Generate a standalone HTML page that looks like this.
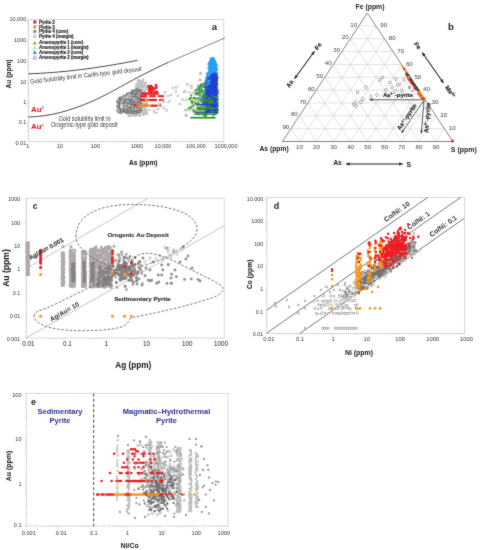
<!DOCTYPE html>
<html><head><meta charset="utf-8"><style>
html,body{margin:0;padding:0;background:#fff;width:480px;height:550px;overflow:hidden}
svg{display:block;will-change:transform}
text{font-family:"Liberation Sans",sans-serif}
</style></head><body>
<svg width="480" height="550" viewBox="0 0 480 550" font-family="Liberation Sans, sans-serif">
<defs><filter id="soft" x="0" y="0" width="480" height="550" filterUnits="userSpaceOnUse" color-interpolation-filters="sRGB"><feConvolveMatrix order="3" kernelMatrix="1 2 1 2 24 2 1 2 1" divisor="36" edgeMode="duplicate"/></filter></defs>
<g filter="url(#soft)"><rect width="480" height="550" fill="#fff"/>
<rect x="28.4" y="19.5" width="195.4" height="122" fill="none" stroke="#cfcfcf" stroke-width="0.8"/>
<path d="M28.4 141.5v1.3M38.2 141.5v1.3M43.9 141.5v1.3M48 141.5v1.3M51.2 141.5v1.3M53.7 141.5v1.3M55.9 141.5v1.3M57.8 141.5v1.3M59.5 141.5v1.3M61 141.5v1.3M70.8 141.5v1.3M76.5 141.5v1.3M80.6 141.5v1.3M83.7 141.5v1.3M86.3 141.5v1.3M88.5 141.5v1.3M90.4 141.5v1.3M92 141.5v1.3M93.5 141.5v1.3M103.3 141.5v1.3M109.1 141.5v1.3M113.1 141.5v1.3M116.3 141.5v1.3M118.9 141.5v1.3M121.1 141.5v1.3M122.9 141.5v1.3M124.6 141.5v1.3M126.1 141.5v1.3M135.9 141.5v1.3M141.6 141.5v1.3M145.7 141.5v1.3M148.9 141.5v1.3M151.4 141.5v1.3M153.6 141.5v1.3M155.5 141.5v1.3M157.2 141.5v1.3M158.7 141.5v1.3M168.5 141.5v1.3M174.2 141.5v1.3M178.3 141.5v1.3M181.4 141.5v1.3M184 141.5v1.3M186.2 141.5v1.3M188.1 141.5v1.3M189.7 141.5v1.3M191.2 141.5v1.3M201 141.5v1.3M206.8 141.5v1.3M210.8 141.5v1.3M214 141.5v1.3M216.6 141.5v1.3M218.8 141.5v1.3M220.6 141.5v1.3M222.3 141.5v1.3M223.8 141.5v1.3" stroke="#c8c8c8" stroke-width="0.5"/>
<path d="M28.4 141.5h-1.3M28.4 135.4h-1.3M28.4 131.8h-1.3M28.4 129.3h-1.3M28.4 127.3h-1.3M28.4 125.7h-1.3M28.4 124.3h-1.3M28.4 123.1h-1.3M28.4 122.1h-1.3M28.4 121.2h-1.3M28.4 115h-1.3M28.4 111.5h-1.3M28.4 108.9h-1.3M28.4 107h-1.3M28.4 105.3h-1.3M28.4 104h-1.3M28.4 102.8h-1.3M28.4 101.8h-1.3M28.4 100.8h-1.3M28.4 94.7h-1.3M28.4 91.1h-1.3M28.4 88.6h-1.3M28.4 86.6h-1.3M28.4 85h-1.3M28.4 83.6h-1.3M28.4 82.5h-1.3M28.4 81.4h-1.3M28.4 80.5h-1.3M28.4 74.4h-1.3M28.4 70.8h-1.3M28.4 68.3h-1.3M28.4 66.3h-1.3M28.4 64.7h-1.3M28.4 63.3h-1.3M28.4 62.1h-1.3M28.4 61.1h-1.3M28.4 60.2h-1.3M28.4 54h-1.3M28.4 50.5h-1.3M28.4 47.9h-1.3M28.4 46h-1.3M28.4 44.3h-1.3M28.4 43h-1.3M28.4 41.8h-1.3M28.4 40.8h-1.3M28.4 39.8h-1.3M28.4 33.7h-1.3M28.4 30.1h-1.3M28.4 27.6h-1.3M28.4 25.6h-1.3M28.4 24h-1.3M28.4 22.6h-1.3M28.4 21.5h-1.3M28.4 20.4h-1.3M28.4 19.5h-1.3" stroke="#c8c8c8" stroke-width="0.5"/>
<text x="26.3" y="21.4" font-size="5.5" text-anchor="end" fill="#333">10,000</text>
<text x="26.3" y="41.9" font-size="5.5" text-anchor="end" fill="#333">1000</text>
<text x="26.3" y="62.9" font-size="5.5" text-anchor="end" fill="#333">100</text>
<text x="26.3" y="83.5" font-size="5.5" text-anchor="end" fill="#333">10</text>
<text x="26.3" y="103.9" font-size="5.5" text-anchor="end" fill="#333">1</text>
<text x="26.3" y="124.4" font-size="5.5" text-anchor="end" fill="#333">0.1</text>
<text x="26.3" y="144.9" font-size="5.5" text-anchor="end" fill="#333">0.01</text>
<text x="27.8" y="148" font-size="5.5" text-anchor="middle" fill="#333">1</text>
<text x="59.7" y="148" font-size="5.5" text-anchor="middle" fill="#333">10</text>
<text x="95.4" y="148" font-size="5.5" text-anchor="middle" fill="#333">100</text>
<text x="137" y="148" font-size="5.5" text-anchor="middle" fill="#333">1000</text>
<text x="163" y="148" font-size="5.5" text-anchor="middle" fill="#333">10,000</text>
<text x="196" y="148" font-size="5.5" text-anchor="middle" fill="#333">100,000</text>
<text x="226" y="148" font-size="5.5" text-anchor="middle" fill="#333">1000,000</text>
<text x="143.2" y="164.8" font-size="6.6" font-weight="bold" text-anchor="middle" fill="#111">As (ppm)</text>
<text x="11.3" y="74" font-size="6.6" font-weight="bold" text-anchor="middle" fill="#111" transform="rotate(-90 11.3 74)">Au (ppm)</text>
<text x="214.5" y="30.2" font-size="9.5" font-weight="bold" text-anchor="middle" fill="#222">a</text>
<path d="M28.5 73.8 C60 73 100 68 137.5 60.3" stroke="#333" stroke-width="0.9" fill="none"/>
<path d="M28.4 117 C50 116.5 70 111 93.3 100.8 C115 91 130 80 168 62.5" stroke="#333" stroke-width="0.9" fill="none"/>
<path d="M167.5 62.7 L225 37.8" stroke="#444" stroke-width="0.65" fill="none"/>
<text x="30.5" y="83.8" font-size="6.4" fill="#333" transform="rotate(-6.6 30.5 83.8)" textLength="112" lengthAdjust="spacingAndGlyphs">Gold Solubility limit in Carlin-type gold deposit</text>
<text x="84.5" y="120.6" font-size="6.3" text-anchor="middle" fill="#3a3a3a" textLength="52" lengthAdjust="spacingAndGlyphs">Gold solubility limit in</text>
<text x="84.3" y="127.3" font-size="6.3" text-anchor="middle" fill="#3a3a3a" textLength="66.7" lengthAdjust="spacingAndGlyphs">Orogenic-type gold deposit</text>
<text x="31" y="112" font-size="7.8" font-weight="bold" fill="#e81020">Au<tspan dy="-3.3" font-size="3.8">0</tspan></text>
<text x="31" y="129.4" font-size="7.8" font-weight="bold" fill="#e81020">Au<tspan dy="-3.3" font-size="4.2">+</tspan></text>
<circle cx="34.8" cy="22.1" r="1.75" fill="#ee1d23"/>
<circle cx="34.8" cy="26.9" r="1.75" fill="#f7941d"/>
<circle cx="34.8" cy="31.6" r="1.75" fill="#8a8a8a"/>
<circle cx="34.8" cy="36.5" r="1.45" fill="#fff" stroke="#777" stroke-width="0.6"/>
<path d="M34.8 40.8l2.1 3.6h-4.2z" fill="#7ac143"/>
<path d="M34.8 45.8l1.9 3.3h-3.8z" fill="#fff" stroke="#7fbf9f" stroke-width="0.6"/>
<path d="M34.8 50.3l2.1 3.6h-4.2z" fill="#1e9be8"/>
<path d="M34.8 55.6l1.9 3.3h-3.8z" fill="#fff" stroke="#5b5bd6" stroke-width="0.6"/>
<text x="39" y="23.8" font-size="4.6" font-weight="bold" stroke="#222" stroke-width="0.13" fill="#222" letter-spacing="-0.1">Pyrite 2</text>
<text x="39" y="28.5" font-size="4.6" font-weight="bold" stroke="#222" stroke-width="0.13" fill="#222" letter-spacing="-0.1">Pyrite 3</text>
<text x="39" y="33.2" font-size="4.6" font-weight="bold" stroke="#222" stroke-width="0.13" fill="#222" letter-spacing="-0.1">Pyrite 4 (core)</text>
<text x="39" y="38.1" font-size="4.6" font-weight="bold" stroke="#222" stroke-width="0.13" fill="#222" letter-spacing="-0.1">Pyrite 4 (margin)</text>
<text x="39" y="44.4" font-size="4.6" font-weight="bold" stroke="#222" stroke-width="0.13" fill="#222" letter-spacing="-0.1">Arsenopyrite 1 (core)</text>
<text x="39" y="49.1" font-size="4.6" font-weight="bold" stroke="#222" stroke-width="0.13" fill="#222" letter-spacing="-0.1">Arsenopyrite 1 (margin)</text>
<text x="39" y="53.9" font-size="4.6" font-weight="bold" stroke="#222" stroke-width="0.13" fill="#222" letter-spacing="-0.1">Arsenopyrite 2 (core)</text>
<text x="39" y="58.9" font-size="4.6" font-weight="bold" stroke="#222" stroke-width="0.13" fill="#222" letter-spacing="-0.1">Arsenopyrite 2 (margin)</text>
<path d="M140.2 112.6h.01M143.1 87.4h.01M133.9 111.8h.01M128.1 109.8h.01M143.5 96.5h.01M137.8 99.8h.01M140.1 116.1h.01M139.9 80.6h.01M137.1 113.4h.01M140.3 98.3h.01M137.7 88.3h.01M141.5 86.5h.01M144.2 84.8h.01M133.2 112h.01M137.9 110.8h.01M140.5 106.8h.01M137.9 111.7h.01M143.9 93.2h.01M147.1 101.1h.01M139.8 102.9h.01M141.2 84.7h.01M136.6 88h.01M146.9 87.1h.01M141.1 90.3h.01M145 103.8h.01M130.6 110.7h.01M146.4 112.9h.01M139.1 84.5h.01M131.8 113.8h.01M138.8 85.8h.01M145.2 103.1h.01M139.1 93.1h.01M136 88h.01M128.7 111.9h.01M137.1 99.5h.01M134.3 107.2h.01M146.9 103.7h.01M136.4 98.6h.01M145 91.9h.01M139.5 104.6h.01M142.9 113.1h.01M130.9 114h.01M143.8 84.1h.01M136.2 109.6h.01M143.5 98.2h.01M142.2 87.5h.01M146.5 100.5h.01M146.6 95.7h.01M147.1 98.3h.01M138.2 112.6h.01M142.5 100.8h.01M136.3 111.9h.01M136 113.6h.01M138.1 114.7h.01M132.9 109.2h.01M141.2 105.9h.01M140.3 115.4h.01M132.2 113.3h.01M144.4 83.2h.01M139.8 97h.01M139.6 103.7h.01M134 115.1h.01M137.1 102.6h.01M140.4 85.9h.01M142.9 109.6h.01M142.2 83.2h.01M145.8 109.1h.01M145.1 98.6h.01M146.3 99.2h.01M143.8 103.7h.01M139.9 86.2h.01M139.2 80.5h.01M143.6 115h.01M143.6 90.8h.01M144.8 108.9h.01M130.5 107.8h.01M145.2 86.4h.01M139.2 103h.01M139.9 82.6h.01M140.9 102.7h.01M144.1 109.1h.01M134.4 106.1h.01M144.9 112.5h.01M140.7 87.1h.01M139 114.4h.01M136.9 103.6h.01M144.2 93.1h.01M139.3 90.2h.01M129.5 107.6h.01M145.7 89.1h.01M134 110.2h.01M140.1 86h.01M136.5 112.1h.01M135.3 105.7h.01M143.1 110h.01M141.1 92.9h.01M142.8 86.2h.01M142.6 112.6h.01M143.6 103.2h.01M146.3 110.6h.01M143.2 93.8h.01M140.5 85.9h.01M142.8 107.4h.01M142.1 95.7h.01M128.7 110.7h.01M138.6 93.5h.01M138.7 106.1h.01M135.4 110.1h.01M145.9 93.5h.01M130.7 107.5h.01M141.9 109.9h.01M146 83.6h.01M129.8 116h.01M139.2 95.7h.01M142.6 86.1h.01M145.8 87.1h.01M143 81.5h.01M142 96.1h.01M129.1 116.3h.01M145.3 113.4h.01M144.8 97.2h.01M140.3 99.1h.01M135.7 108.7h.01M145 85.7h.01M147.1 114.3h.01M132.5 115.4h.01M137.7 113.3h.01M139.7 81.5h.01M145.2 107.5h.01M144.2 107.5h.01M141.8 110.9h.01M141.3 106.6h.01M142.8 85.2h.01M145.9 101.4h.01M134.4 114.1h.01M129.8 115.2h.01M139.2 109.1h.01M133.5 109.1h.01M141.7 103.1h.01M146.5 95.3h.01M136.1 105h.01M144.3 91.6h.01M141.1 86.8h.01M138.8 107.8h.01M128.3 114.9h.01M137.1 94.3h.01M142 98.6h.01M142.3 82.2h.01M139 99.9h.01M136.8 102.7h.01M138.7 81.8h.01M139.6 87.3h.01M131.8 112h.01M142.6 105.5h.01M138.8 109.3h.01M137.1 102.3h.01M144 104.4h.01M140.5 94.2h.01M138.9 93.9h.01M142.5 93.3h.01M137.1 107.3h.01M137.8 91.7h.01M144.1 93.3h.01M144.5 108.4h.01M136.7 105.7h.01M144.8 100.7h.01M138.9 103.9h.01M141.2 100.9h.01M136.2 85.9h.01M135.2 100.8h.01M146.5 112.3h.01M145.2 97.5h.01M141.4 81.7h.01M144.9 90.7h.01M137.6 86.4h.01M136.2 110.1h.01M144.1 96.8h.01M143 96.2h.01M135.3 99.5h.01M141.8 107.9h.01M143.9 95.7h.01M135.3 102.9h.01M138.2 102.7h.01M132 115.1h.01M136.2 107.9h.01M141.8 86.3h.01M143 97.3h.01M146 103.6h.01M140.1 107.8h.01M142.6 91.9h.01M137.5 84.3h.01M136.6 103h.01M136.9 85.1h.01M133.3 108.7h.01M135.9 94.7h.01M143.9 85h.01M146 112.5h.01M141 80.9h.01M140.9 101.5h.01M143.1 87h.01M146.6 112.2h.01M128.6 110.2h.01M139.9 104h.01M141.2 100.4h.01M146.6 101.8h.01M141.5 94.8h.01M144.6 107.3h.01M146.1 89.4h.01M145.5 104.5h.01M144.6 94.1h.01M128.1 108.5h.01M143.6 104.7h.01M146.3 89.1h.01M141.7 83.9h.01M143.9 83.4h.01M138.1 80.3h.01M138.7 110.7h.01M142.9 101.8h.01M136.9 111.3h.01M133.7 107.4h.01M140.4 106.8h.01M135.4 106.2h.01M141.6 93.5h.01M128.5 115.1h.01M141.9 86.7h.01M142.3 89.5h.01M137.2 111.2h.01M136.7 89.8h.01M137.1 87h.01M142.4 113.6h.01M137.9 81.8h.01M130.4 112.2h.01M137.2 109.2h.01M144.9 111.5h.01M135.2 107.5h.01M143.8 96.6h.01M136.8 115.3h.01M146.6 100.7h.01M140.6 91.1h.01M139.1 107.2h.01M139.5 109.1h.01M138.7 86.4h.01M139.4 97.4h.01M143.9 84.1h.01M138.6 106.5h.01M135.9 89.1h.01M135.3 99.3h.01M141.4 100h.01M130.1 109.7h.01M146 82.8h.01M144.6 113.1h.01M138.2 107h.01M136.5 84.3h.01M134.9 115.8h.01M142.6 83.4h.01M143.8 90.7h.01M143.2 79.5h.01M145 85.1h.01M136.9 103.8h.01M137.9 85.2h.01" stroke="#c2c2c2" stroke-width="2.4" stroke-linecap="round" fill="none"/>
<path d="M120.1 100.2h.01M125.6 103.1h.01M124.9 107.1h.01M123.1 98.7h.01M135.1 98.8h.01M138.3 111h.01M124.5 106.7h.01M127.5 103.5h.01M139.5 92.5h.01M134.1 100.4h.01M120.2 112.3h.01M133.7 92.1h.01M138.7 91.5h.01M139.5 89.8h.01M139 103.7h.01M118.6 102.6h.01M128 102.5h.01M134.7 105.3h.01M140.9 92.8h.01M136.5 98.9h.01M135.8 110.4h.01M140.8 95.4h.01M127.9 111.6h.01M139.7 97.9h.01M139.6 98.7h.01M126 107.2h.01M128.3 99.8h.01M126.3 99.4h.01M135.1 102.5h.01M133.1 108.3h.01M123.7 96.3h.01M135.3 98h.01M124.8 104.3h.01M133.7 107.2h.01M124.1 104.3h.01M130.9 95.1h.01M125.4 103.6h.01M131.2 92.7h.01M134 90.9h.01M140.3 93.9h.01M140.8 95.9h.01M131.5 112.8h.01M139.8 90h.01M129.5 103.4h.01M133.9 97.1h.01M117.8 102.2h.01M117.7 111.2h.01M127.4 93.9h.01M122.9 112.1h.01M138.5 104.3h.01M132.2 91.4h.01M120.7 110.7h.01M125.1 97h.01M119.1 108.1h.01M133.2 102.1h.01M131.8 91.4h.01M123.2 103h.01M139.9 108.6h.01M132.4 101.5h.01M117.4 110.4h.01M133.6 108.5h.01M135.9 99.9h.01M137.4 112.5h.01M122.9 109.8h.01M126.7 96.5h.01M127.6 93.8h.01M134.1 101.1h.01M137.9 110.5h.01M124.6 95.7h.01M139.5 101.1h.01M140.8 102.9h.01M118.3 101.3h.01M129.1 99.4h.01M139.8 111.8h.01M126.8 109h.01M132 106.5h.01M130.8 94h.01M136.6 89.3h.01M133.8 93.7h.01M128.3 112.4h.01M127.3 104.8h.01M117.4 102h.01M126.2 101.1h.01M124.1 104.8h.01M121.2 110.8h.01M140 100.8h.01M128.2 109.6h.01M124 108.3h.01M123.9 106.3h.01M125 103.5h.01M139.2 90.3h.01M136.4 102h.01M126.1 97.4h.01M132 91.3h.01M133.1 112.1h.01M140.5 110.3h.01M136.4 93.3h.01M140.3 93.9h.01M137.9 110.1h.01M131.9 101.5h.01M121.8 101.5h.01M120.1 108.2h.01M139.1 92.4h.01M131 99.1h.01M127.3 93.9h.01M133 95.9h.01M126.6 100.1h.01M138.7 94.9h.01M134.2 96.4h.01M138.5 98.5h.01M129.1 110.1h.01M133.1 91.3h.01M120.3 112.8h.01M119.1 100.3h.01M131.2 96.6h.01M119.6 108.5h.01M136.3 102.5h.01M120.3 102h.01M132.1 99.3h.01M137.7 98.4h.01M130.5 107.4h.01M134.6 95.2h.01M140.8 106.3h.01M127.2 99h.01M135.7 93.2h.01M132.4 106.3h.01M129.4 110h.01M128.2 100.2h.01M123.8 111.1h.01M124.6 105.7h.01M126.8 111.5h.01M140.9 103.5h.01M118.8 100.9h.01M118.2 102.2h.01M121.5 97.8h.01M124.3 103.5h.01M136.7 111.5h.01M124.9 102.7h.01M140.1 91.9h.01M137.9 104.7h.01M124.1 107.7h.01M123.9 110.5h.01M135 99.8h.01M120.5 101.3h.01M124.1 102.2h.01M134.8 109.6h.01M118.4 103.2h.01M140.6 100h.01M135.5 91.3h.01M138 103h.01M138.3 107.9h.01M137.9 90.4h.01M134.2 93.7h.01M123.4 96.8h.01M131.2 104.1h.01M121.6 97.7h.01M136.6 102.2h.01M129.3 107.2h.01M132.7 96h.01M119.1 100.1h.01M138.1 103.4h.01M118.3 99.6h.01M126.2 103h.01M131.1 111.8h.01M125.1 98.8h.01M131.7 110.3h.01M133.9 100.3h.01M136.5 100.6h.01M140.1 95.8h.01M120.1 108.9h.01M124.1 109.3h.01M131.6 101.2h.01M119.1 107.9h.01M118.6 112.2h.01M138 96.3h.01M120.1 110.3h.01M129 94.9h.01M126.8 104.4h.01M139 108.2h.01M120.9 100.5h.01M128.8 112.7h.01M119.1 101.3h.01M138.9 98.6h.01M123.3 102.3h.01M124.7 111.2h.01M119 106.1h.01M124 110.6h.01M138.4 111.5h.01M126.3 112.1h.01M135.3 90.4h.01M133.9 111h.01M140.2 106.2h.01M137.7 109.2h.01M134.5 92.3h.01M126.2 112.9h.01M130.4 101.5h.01M139.7 95.8h.01M141 110.9h.01M125.7 96.9h.01M120 111h.01M138.4 103.4h.01M133.1 106.6h.01M129.1 106.7h.01M132.8 103.8h.01M138.5 92h.01M139.5 93.1h.01M126.8 102.1h.01M134.2 111.5h.01M134.7 97.3h.01M118.8 106h.01M135.6 93.2h.01M128 101.5h.01M131.7 112.7h.01M133.5 98.4h.01M134.2 100.2h.01M126.9 97.8h.01M128.8 95.7h.01M127.6 96h.01M137.1 109.3h.01M125.3 103.9h.01M138.7 97.6h.01M130.3 99.6h.01M132.6 112h.01M120.3 112.2h.01M133 108.1h.01M132.2 109.9h.01M124.8 106h.01M123.3 101.2h.01M133.4 93.8h.01M118.5 108h.01M136.4 105h.01M124.7 104.8h.01M119 104.9h.01M130.8 103.8h.01M127.7 94.4h.01M134.4 100.1h.01M134.9 97.7h.01M119.1 102h.01M131.9 111.1h.01M138.3 90.4h.01M135.5 95.3h.01M133.7 98.1h.01M124.7 100.7h.01M129.7 105.7h.01M132.3 105.3h.01M126.2 105.3h.01M125.3 103.6h.01M128 102.5h.01M117.4 101h.01M122.3 98.3h.01M118.8 104.8h.01M138.4 97.5h.01M119.5 103.9h.01M120 110.4h.01M119.9 97.7h.01M124.6 95.6h.01M134.1 112.7h.01M125.7 108h.01M120.4 102.9h.01M127.4 95.9h.01M136.7 106.9h.01M136.7 112.8h.01M131.7 109.9h.01M140.6 106.8h.01M132.5 94.3h.01M125.9 104h.01M139.2 96.2h.01M133.7 99.6h.01M136.1 94.6h.01M132.8 105.2h.01M128.1 93.5h.01M126.7 106.9h.01M128.1 94.6h.01M136.2 108.6h.01M139.7 109.2h.01M132.5 93.5h.01M136.8 106.5h.01M134.9 105.7h.01M136.9 96.1h.01M133.1 101.4h.01M125.1 96.8h.01M120.7 100.8h.01M125.8 99.1h.01M137.4 105.4h.01M133.3 112.6h.01M122.2 101.2h.01M119.2 98.4h.01M139.8 91.1h.01M135.2 109.8h.01M129.2 108.1h.01M127.6 97.5h.01M129.1 93.7h.01M124.4 96.3h.01M140.7 97h.01M122.5 111.6h.01M120.3 112.2h.01M137.5 104.5h.01M127.3 93.7h.01M125.4 98.8h.01M139.2 101.9h.01" stroke="#7e7e7e" stroke-width="2.4" stroke-linecap="round" fill="none"/>
<path d="M140.8 106.3h.01M120.5 102.3h.01M139.7 97.1h.01M132.7 100.1h.01M117.3 106.2h.01M123.2 107.7h.01M128.7 101.9h.01M128 105.2h.01M140.8 108.1h.01M118.7 100.9h.01M140 106.9h.01M137.5 105.8h.01M124.6 98.4h.01M127.6 96h.01M127.1 107.5h.01M128.5 105.2h.01M132.5 106.4h.01M124.4 95.8h.01M135.1 112.8h.01M124.1 108.3h.01M139.2 103.3h.01M125.4 97.5h.01M132.2 109.7h.01M137.4 104h.01M140.8 90.7h.01M125.8 108.1h.01M132.9 90.6h.01M126.6 104.3h.01M133.5 99.8h.01M121.5 112.2h.01M128.2 106.2h.01M127 96.7h.01M125.7 108.6h.01M136.4 101.8h.01M127.5 95.4h.01M130 94.3h.01M137.6 108.8h.01M138.3 96.2h.01M132.8 109.6h.01M136.2 109.7h.01M128.7 109.2h.01M128.1 95.3h.01M128.5 97h.01M135.4 109h.01M126.2 100.1h.01M140 111.6h.01M140.2 106.5h.01M133.3 95.5h.01M137 95.6h.01M124.8 106.4h.01M138.5 109.5h.01M132.1 102.4h.01M122.3 110h.01M135.3 101.3h.01M126.1 96.9h.01M127.8 95.9h.01M126.2 97h.01M126 103.9h.01M128.9 93.7h.01M136.1 101.3h.01M128 106.1h.01M135.1 109.4h.01M136.5 105.1h.01M134.3 92.8h.01M133.8 95.1h.01M132.8 107h.01M135.6 92.1h.01M132.4 109.1h.01M123.4 100.1h.01M121.1 101.9h.01" stroke="#6a6a6a" stroke-width="2.6" stroke-linecap="round" fill="none"/>
<path d="M140.8 106.3h.01M120.5 102.3h.01M139.7 97.1h.01M132.7 100.1h.01M117.3 106.2h.01M123.2 107.7h.01M128.7 101.9h.01M128 105.2h.01M140.8 108.1h.01M118.7 100.9h.01M140 106.9h.01M137.5 105.8h.01M124.6 98.4h.01M127.6 96h.01M127.1 107.5h.01M128.5 105.2h.01M132.5 106.4h.01M124.4 95.8h.01M135.1 112.8h.01M124.1 108.3h.01M139.2 103.3h.01M125.4 97.5h.01M132.2 109.7h.01M137.4 104h.01M140.8 90.7h.01M125.8 108.1h.01M132.9 90.6h.01M126.6 104.3h.01M133.5 99.8h.01M121.5 112.2h.01M128.2 106.2h.01M127 96.7h.01M125.7 108.6h.01M136.4 101.8h.01M127.5 95.4h.01M130 94.3h.01M137.6 108.8h.01M138.3 96.2h.01M132.8 109.6h.01M136.2 109.7h.01M128.7 109.2h.01M128.1 95.3h.01M128.5 97h.01M135.4 109h.01M126.2 100.1h.01M140 111.6h.01M140.2 106.5h.01M133.3 95.5h.01M137 95.6h.01M124.8 106.4h.01M138.5 109.5h.01M132.1 102.4h.01M122.3 110h.01M135.3 101.3h.01M126.1 96.9h.01M127.8 95.9h.01M126.2 97h.01M126 103.9h.01M128.9 93.7h.01M136.1 101.3h.01M128 106.1h.01M135.1 109.4h.01M136.5 105.1h.01M134.3 92.8h.01M133.8 95.1h.01M132.8 107h.01M135.6 92.1h.01M132.4 109.1h.01M123.4 100.1h.01M121.1 101.9h.01" stroke="#c8c8c8" stroke-width="1.5" stroke-linecap="round" fill="none"/>
<path d="M125.3 104.7h.01M129.8 105.5h.01M122.9 106h.01M134.6 106.3h.01M118.6 111.7h.01M130.8 95.5h.01M127.4 101.4h.01M129.4 95h.01M123.4 97.7h.01M135.7 99.5h.01M117.9 99.9h.01M140.4 96h.01M129.9 97.6h.01M118.3 110.6h.01M139.5 93.5h.01M127 98h.01M121 104.9h.01M135.8 107.2h.01M122.5 101.4h.01M133.9 98.3h.01" stroke="#bdbdbd" stroke-width="2.2" stroke-linecap="round" fill="none"/>
<path d="M165 92.5h.01M168 96h.01M163.8 102h.01M168.8 102h.01M163.8 108h.01M166.9 110h.01M153.8 111.2h.01M187.5 84.3h.01M176.6 87.2h.01M175.9 91.5h.01M184.6 91.5h.01M191.2 87.9h.01M178 96h.01M182.5 99.5h.01M169.4 101h.01M166.5 110.5h.01M165 92.3h.01M158 109h.01M160 104h.01M171 95h.01M149 110h.01M156 113h.01M173 88h.01M180 104h.01" stroke="#9a9a9a" stroke-width="2.7" stroke-linecap="round" fill="none"/>
<path d="M165 92.5h.01M168 96h.01M163.8 102h.01M168.8 102h.01M163.8 108h.01M166.9 110h.01M153.8 111.2h.01M187.5 84.3h.01M176.6 87.2h.01M175.9 91.5h.01M184.6 91.5h.01M191.2 87.9h.01M178 96h.01M182.5 99.5h.01M169.4 101h.01M166.5 110.5h.01M165 92.3h.01M158 109h.01M160 104h.01M171 95h.01M149 110h.01M156 113h.01M173 88h.01M180 104h.01" stroke="#fff" stroke-width="1.7" stroke-linecap="round" fill="none"/>
<path d="M152.5 90.7h.01M148.2 86.1h.01M150.9 91.9h.01M152.2 89.2h.01M149.5 90.7h.01M150 89.6h.01M149.6 91.1h.01M150 89.9h.01M156.4 86h.01M148.9 88.7h.01M153 87.8h.01M155.8 87.7h.01M153 87.9h.01M152.5 87.2h.01M149.6 86.4h.01M150.6 86h.01M155.8 84.9h.01M150.1 88.2h.01M151.1 85.9h.01M151.7 88h.01M154.7 91.8h.01M156.5 87.4h.01M152.5 87.3h.01M150.4 91.6h.01M154.6 88.7h.01M150.8 91.5h.01M152.1 88.8h.01M148.9 91.1h.01M149 87.2h.01M156.9 91.6h.01" stroke="#ee1d23" stroke-width="2.4" stroke-linecap="round" fill="none"/>
<path d="M142 93.5h.01M143.6 93.5h.01M145.2 93.5h.01M146.8 93.5h.01M148.4 93.5h.01M150 93.5h.01M151.6 93.5h.01M153.2 93.5h.01M154.8 93.5h.01M156.4 93.5h.01M158 93.5h.01M141 96.2h.01M142.6 96.2h.01M144.2 96.2h.01M145.8 96.2h.01M150 96.2h.01M151.6 96.2h.01M153.2 96.2h.01M154.8 96.2h.01M159 96.2h.01M161 96.2h.01M163 96.2h.01M141 100h.01M142.6 100h.01M144.2 100h.01M148 100h.01M149.6 100h.01M151.2 100h.01M152.8 100h.01M154.4 100h.01M156 100h.01M160 100h.01M162.5 100h.01M134.6 105.6h.01M136.2 105.6h.01M137.8 105.6h.01M141 105.6h.01M144.2 105.6h.01M145.8 105.6h.01M147.4 105.6h.01M150.6 105.6h.01M152.2 105.6h.01M153.8 105.6h.01M155.4 105.6h.01M157 105.6h.01M160.2 105.6h.01" stroke="#ee1d23" stroke-width="2.3" stroke-linecap="round" fill="none"/>
<path d="M138 105.6h.01M139.5 105.6h.01M141 105.6h.01M142.5 105.6h.01M144 105.6h.01M145.5 105.6h.01M147 105.6h.01M148.5 105.6h.01M150 105.6h.01" stroke="#f7941d" stroke-width="2.3" stroke-linecap="round" fill="none"/>
<path d="M146.5 100h.01M148 100h.01" stroke="#f7941d" stroke-width="2.2" stroke-linecap="round" fill="none"/>
<path d="M186.4 114.2l1.3 2.3h-2.6zM204.8 98.6l1.3 2.3h-2.6zM186.8 108.4l1.3 2.3h-2.6zM193.5 104.8l1.3 2.3h-2.6zM202.2 98.8l1.3 2.3h-2.6zM185.1 108.5l1.3 2.3h-2.6zM199.3 111.5l1.3 2.3h-2.6zM189.9 107.2l1.3 2.3h-2.6zM203.2 92.6l1.3 2.3h-2.6zM193 91.9l1.3 2.3h-2.6zM191.3 84.2l1.3 2.3h-2.6zM200.8 95l1.3 2.3h-2.6zM196.5 90.2l1.3 2.3h-2.6zM191.9 106.1l1.3 2.3h-2.6zM194.3 100.8l1.3 2.3h-2.6zM193.3 99.5l1.3 2.3h-2.6zM203.7 89.6l1.3 2.3h-2.6zM195.4 103.9l1.3 2.3h-2.6zM185.9 113.2l1.3 2.3h-2.6zM195 88.9l1.3 2.3h-2.6zM200.7 108.2l1.3 2.3h-2.6zM197.9 111.7l1.3 2.3h-2.6zM186 98.5l1.3 2.3h-2.6zM200.3 111.7l1.3 2.3h-2.6zM198.1 101l1.3 2.3h-2.6zM192.5 99.9l1.3 2.3h-2.6zM196.2 111.3l1.3 2.3h-2.6zM202.2 105.6l1.3 2.3h-2.6zM204.3 82.8l1.3 2.3h-2.6zM200.9 96.3l1.3 2.3h-2.6zM200.5 90.6l1.3 2.3h-2.6zM194.3 108.6l1.3 2.3h-2.6zM184.8 90.4l1.3 2.3h-2.6zM194.7 109.5l1.3 2.3h-2.6zM189.9 108.5l1.3 2.3h-2.6zM189.4 90.8l1.3 2.3h-2.6zM196.2 102.7l1.3 2.3h-2.6zM203.4 110.4l1.3 2.3h-2.6zM189.5 105.9l1.3 2.3h-2.6zM198 93.6l1.3 2.3h-2.6z" fill="#fff" stroke="#76ad76" stroke-width="0.45"/>
<path d="M202.5 110.9l1.2 2.2h-2.5zM205.3 83.2l1.2 2.2h-2.5zM202.3 89.6l1.2 2.2h-2.5zM201.8 83.8l1.2 2.2h-2.5zM197 91.8l1.2 2.2h-2.5zM190.5 96.4l1.2 2.2h-2.5zM206.5 110.5l1.2 2.2h-2.5zM205 94.6l1.2 2.2h-2.5zM193.2 108.5l1.2 2.2h-2.5zM205.9 79.4l1.2 2.2h-2.5zM199.5 90.7l1.2 2.2h-2.5zM197.9 108l1.2 2.2h-2.5zM200.5 84.2l1.2 2.2h-2.5zM193.3 96.9l1.2 2.2h-2.5zM198.2 91.5l1.2 2.2h-2.5zM191.2 93.9l1.2 2.2h-2.5zM202.3 96.6l1.2 2.2h-2.5zM201.7 100.4l1.2 2.2h-2.5zM201 82.7l1.2 2.2h-2.5zM200 105.3l1.2 2.2h-2.5zM198.6 112.2l1.2 2.2h-2.5zM205.2 114.2l1.2 2.2h-2.5zM201.5 108.3l1.2 2.2h-2.5zM203.9 106.6l1.2 2.2h-2.5zM201.9 103.5l1.2 2.2h-2.5zM197.5 103.4l1.2 2.2h-2.5zM204 105.3l1.2 2.2h-2.5zM198.6 99.3l1.2 2.2h-2.5zM201.7 90.5l1.2 2.2h-2.5zM196.4 102.4l1.2 2.2h-2.5zM204.1 104.4l1.2 2.2h-2.5zM204.3 96.9l1.2 2.2h-2.5zM196.7 91l1.2 2.2h-2.5zM200.9 90l1.2 2.2h-2.5zM200.2 108.5l1.2 2.2h-2.5zM203 83.7l1.2 2.2h-2.5zM198.5 106l1.2 2.2h-2.5zM206.2 91l1.2 2.2h-2.5zM202.1 96l1.2 2.2h-2.5zM202.5 111.2l1.2 2.2h-2.5zM205.8 89.3l1.2 2.2h-2.5zM205.4 84.2l1.2 2.2h-2.5zM197.7 96.8l1.2 2.2h-2.5zM204.3 111l1.2 2.2h-2.5zM202.4 88.5l1.2 2.2h-2.5zM190.9 99.2l1.2 2.2h-2.5zM205.1 114.4l1.2 2.2h-2.5zM204.5 92.7l1.2 2.2h-2.5zM205 114.1l1.2 2.2h-2.5zM196.6 91.3l1.2 2.2h-2.5zM206.1 78.9l1.2 2.2h-2.5zM202.8 93.1l1.2 2.2h-2.5zM204.3 99.2l1.2 2.2h-2.5zM189.1 97.7l1.2 2.2h-2.5zM190.8 106.1l1.2 2.2h-2.5zM202 104.3l1.2 2.2h-2.5zM203.1 82l1.2 2.2h-2.5zM193.7 109.4l1.2 2.2h-2.5zM205.8 89.3l1.2 2.2h-2.5zM195.5 101.5l1.2 2.2h-2.5zM191.4 96.5l1.2 2.2h-2.5zM199.5 93.5l1.2 2.2h-2.5zM202.2 97.8l1.2 2.2h-2.5zM206.6 112.8l1.2 2.2h-2.5zM203.5 97.7l1.2 2.2h-2.5zM200 84l1.2 2.2h-2.5zM203.7 100.7l1.2 2.2h-2.5zM202.3 94.7l1.2 2.2h-2.5zM201.4 89.2l1.2 2.2h-2.5zM204.8 103.2l1.2 2.2h-2.5zM206.7 94.5l1.2 2.2h-2.5zM205.7 114.5l1.2 2.2h-2.5zM200.1 92.6l1.2 2.2h-2.5zM196.2 88.6l1.2 2.2h-2.5zM205.7 95.6l1.2 2.2h-2.5zM205 93.3l1.2 2.2h-2.5zM204.4 106.9l1.2 2.2h-2.5zM204.4 111.7l1.2 2.2h-2.5zM204.5 92.3l1.2 2.2h-2.5zM198.3 86.5l1.2 2.2h-2.5zM189 106.7l1.2 2.2h-2.5zM195.9 101.7l1.2 2.2h-2.5zM204.9 106.8l1.2 2.2h-2.5zM203.7 98.4l1.2 2.2h-2.5zM202.9 107.6l1.2 2.2h-2.5zM203.7 99l1.2 2.2h-2.5zM204.6 107.6l1.2 2.2h-2.5zM204.8 84.4l1.2 2.2h-2.5zM196.6 88.3l1.2 2.2h-2.5zM202.6 90.7l1.2 2.2h-2.5zM203.1 102.6l1.2 2.2h-2.5zM205.7 101.7l1.2 2.2h-2.5zM201.1 100.4l1.2 2.2h-2.5zM194.1 96.2l1.2 2.2h-2.5zM195.6 96.8l1.2 2.2h-2.5zM203.2 100.7l1.2 2.2h-2.5zM199.3 87.8l1.2 2.2h-2.5zM203.9 112.6l1.2 2.2h-2.5zM199.2 108l1.2 2.2h-2.5zM205.1 87.3l1.2 2.2h-2.5zM200.4 86.3l1.2 2.2h-2.5zM201.2 112.5l1.2 2.2h-2.5zM205.3 80.7l1.2 2.2h-2.5zM204.5 101.2l1.2 2.2h-2.5zM201.1 87.4l1.2 2.2h-2.5zM200.9 98l1.2 2.2h-2.5zM204.1 113.4l1.2 2.2h-2.5zM191.6 101l1.2 2.2h-2.5zM203.3 85.8l1.2 2.2h-2.5zM199.6 89.9l1.2 2.2h-2.5zM204.1 106.1l1.2 2.2h-2.5zM206.9 98.7l1.2 2.2h-2.5zM199.2 88.9l1.2 2.2h-2.5zM203.2 93.5l1.2 2.2h-2.5zM204.2 106.4l1.2 2.2h-2.5zM205 96.3l1.2 2.2h-2.5zM192.4 102.2l1.2 2.2h-2.5zM195.5 93.1l1.2 2.2h-2.5zM206.1 81l1.2 2.2h-2.5zM206 95.3l1.2 2.2h-2.5zM196.3 110.5l1.2 2.2h-2.5zM202.6 95.8l1.2 2.2h-2.5zM207 90.5l1.2 2.2h-2.5zM195.9 98.3l1.2 2.2h-2.5zM201.1 90.5l1.2 2.2h-2.5zM197.3 111.3l1.2 2.2h-2.5zM203.9 100.2l1.2 2.2h-2.5zM206.3 95.1l1.2 2.2h-2.5zM204.7 114l1.2 2.2h-2.5zM205.2 90.9l1.2 2.2h-2.5zM189.5 97.3l1.2 2.2h-2.5zM193.2 104l1.2 2.2h-2.5zM201.2 104.5l1.2 2.2h-2.5zM198.1 105.3l1.2 2.2h-2.5zM191.2 105.3l1.2 2.2h-2.5zM197.6 87.9l1.2 2.2h-2.5zM203.7 102.4l1.2 2.2h-2.5zM206.6 102.5l1.2 2.2h-2.5zM205.7 92l1.2 2.2h-2.5zM205.2 93.4l1.2 2.2h-2.5zM195.4 90.7l1.2 2.2h-2.5zM191.3 94.1l1.2 2.2h-2.5zM203.6 113.7l1.2 2.2h-2.5zM199.6 90l1.2 2.2h-2.5zM196.3 111.3l1.2 2.2h-2.5zM203.8 101.6l1.2 2.2h-2.5zM196.8 103.1l1.2 2.2h-2.5zM201.5 85.1l1.2 2.2h-2.5zM204.5 92.8l1.2 2.2h-2.5zM205.8 99.4l1.2 2.2h-2.5zM202.1 102.5l1.2 2.2h-2.5zM204.3 95.9l1.2 2.2h-2.5zM203.3 82.1l1.2 2.2h-2.5zM199.5 93.3l1.2 2.2h-2.5zM198.7 113l1.2 2.2h-2.5zM197.3 92.8l1.2 2.2h-2.5zM193.8 110.3l1.2 2.2h-2.5zM200.2 107.6l1.2 2.2h-2.5zM195.9 101.3l1.2 2.2h-2.5zM201.2 98.8l1.2 2.2h-2.5zM205.9 113.8l1.2 2.2h-2.5zM192.9 100.4l1.2 2.2h-2.5zM199.2 85.7l1.2 2.2h-2.5zM199.5 96.4l1.2 2.2h-2.5zM198.2 101.4l1.2 2.2h-2.5zM200.9 107.8l1.2 2.2h-2.5zM204.3 103.6l1.2 2.2h-2.5zM205.3 89.1l1.2 2.2h-2.5zM204.9 108.7l1.2 2.2h-2.5zM206.9 103.1l1.2 2.2h-2.5z" fill="#3c9a28"/>
<path d="M209 61L211.5 57.5L214.5 58.5L216.5 62.5L217 75L208.5 75Z" fill="#2a9df4"/>
<path d="M211.1 70.1l1.2 2.1h-2.4zM208.5 71.1l1.2 2.1h-2.4zM214.2 63.6l1.2 2.1h-2.4zM214.6 62.9l1.2 2.1h-2.4zM208.9 63.3l1.2 2.1h-2.4zM211.9 71.2l1.2 2.1h-2.4zM209.5 64.9l1.2 2.1h-2.4zM217.3 71.3l1.2 2.1h-2.4zM216.5 68.3l1.2 2.1h-2.4zM213.4 66.5l1.2 2.1h-2.4zM213.5 64.2l1.2 2.1h-2.4zM211.1 59.8l1.2 2.1h-2.4zM208.2 62.3l1.2 2.1h-2.4zM215.2 65.9l1.2 2.1h-2.4zM209.1 71l1.2 2.1h-2.4zM207.9 73.3l1.2 2.1h-2.4zM214 66l1.2 2.1h-2.4zM211.6 71.2l1.2 2.1h-2.4zM212.7 60.9l1.2 2.1h-2.4zM211.5 65.6l1.2 2.1h-2.4zM207.9 74.3l1.2 2.1h-2.4zM214.3 57.1l1.2 2.1h-2.4zM214.9 65.5l1.2 2.1h-2.4zM214.4 69.5l1.2 2.1h-2.4zM217.5 64.4l1.2 2.1h-2.4zM209.5 62.4l1.2 2.1h-2.4zM211.1 72.6l1.2 2.1h-2.4zM212.7 56.4l1.2 2.1h-2.4zM214.6 64.8l1.2 2.1h-2.4zM216.2 72.5l1.2 2.1h-2.4zM208.7 65.5l1.2 2.1h-2.4zM208.4 72.4l1.2 2.1h-2.4zM209.3 68.2l1.2 2.1h-2.4zM214 61.4l1.2 2.1h-2.4zM209.6 73l1.2 2.1h-2.4zM210.8 66.5l1.2 2.1h-2.4zM211.2 57.3l1.2 2.1h-2.4zM213.2 69.2l1.2 2.1h-2.4zM214.5 64.7l1.2 2.1h-2.4zM212.8 67.4l1.2 2.1h-2.4zM211.9 73.8l1.2 2.1h-2.4zM209.5 71l1.2 2.1h-2.4zM214.7 72.7l1.2 2.1h-2.4zM216.7 63l1.2 2.1h-2.4zM214.3 73.7l1.2 2.1h-2.4zM213.5 66.5l1.2 2.1h-2.4zM208.2 66.8l1.2 2.1h-2.4zM209.9 62.7l1.2 2.1h-2.4zM211.3 74.1l1.2 2.1h-2.4zM213.9 69.3l1.2 2.1h-2.4zM209.2 61.1l1.2 2.1h-2.4zM217 63.5l1.2 2.1h-2.4zM211.4 65.2l1.2 2.1h-2.4zM211.9 64.3l1.2 2.1h-2.4zM211.7 68.8l1.2 2.1h-2.4zM210.3 58.4l1.2 2.1h-2.4zM211.8 56.9l1.2 2.1h-2.4zM212 64.8l1.2 2.1h-2.4zM211.5 70.3l1.2 2.1h-2.4zM210.9 71.4l1.2 2.1h-2.4zM211.4 70.1l1.2 2.1h-2.4zM212.8 68.2l1.2 2.1h-2.4zM217.4 68.3l1.2 2.1h-2.4zM213 71.6l1.2 2.1h-2.4zM210.2 66.7l1.2 2.1h-2.4zM217 67l1.2 2.1h-2.4zM210.3 74.5l1.2 2.1h-2.4zM211.5 59.6l1.2 2.1h-2.4zM213 61.8l1.2 2.1h-2.4zM208.6 69l1.2 2.1h-2.4zM214.4 74.1l1.2 2.1h-2.4zM208.9 72.9l1.2 2.1h-2.4zM215.5 60.1l1.2 2.1h-2.4zM212.3 67.4l1.2 2.1h-2.4zM210.6 57.2l1.2 2.1h-2.4zM212.4 63.7l1.2 2.1h-2.4zM216.5 66l1.2 2.1h-2.4zM211.7 74.2l1.2 2.1h-2.4zM211 69.3l1.2 2.1h-2.4zM209.8 69.9l1.2 2.1h-2.4zM215 71.3l1.2 2.1h-2.4zM212.3 59.5l1.2 2.1h-2.4zM213.8 72.9l1.2 2.1h-2.4zM209.3 73.3l1.2 2.1h-2.4zM208.5 72.5l1.2 2.1h-2.4zM211.3 68.6l1.2 2.1h-2.4zM214.6 63.6l1.2 2.1h-2.4zM214.8 64.1l1.2 2.1h-2.4zM212.9 61.1l1.2 2.1h-2.4zM210.2 60.5l1.2 2.1h-2.4z" fill="#2a9df4"/>
<path d="M207.5 74L217.5 74L217.8 113L206 113L205.5 100Z" fill="#2143d2"/>
<path d="M216.5 86.5l1.2 2.1h-2.4zM205 97.5l1.2 2.1h-2.4zM211.5 74l1.2 2.1h-2.4zM208.7 96.7l1.2 2.1h-2.4zM207.6 112.1l1.2 2.1h-2.4zM215.3 92.3l1.2 2.1h-2.4zM217 73.1l1.2 2.1h-2.4zM206.8 109.1l1.2 2.1h-2.4zM211 78.6l1.2 2.1h-2.4zM211.9 101.6l1.2 2.1h-2.4zM212.4 73.5l1.2 2.1h-2.4zM213 89.6l1.2 2.1h-2.4zM204.8 107.6l1.2 2.1h-2.4zM209 107.8l1.2 2.1h-2.4zM212.5 97.1l1.2 2.1h-2.4zM209.8 99.2l1.2 2.1h-2.4zM207.1 82.2l1.2 2.1h-2.4zM216.4 80l1.2 2.1h-2.4zM209.2 102.2l1.2 2.1h-2.4zM208.4 86.6l1.2 2.1h-2.4zM217 80.1l1.2 2.1h-2.4zM207.1 108l1.2 2.1h-2.4zM207.6 85.2l1.2 2.1h-2.4zM216.6 84.8l1.2 2.1h-2.4zM216 80.9l1.2 2.1h-2.4zM206.7 102.5l1.2 2.1h-2.4zM215.7 80.8l1.2 2.1h-2.4zM206.5 81.6l1.2 2.1h-2.4zM205.5 88.9l1.2 2.1h-2.4zM210.9 97.4l1.2 2.1h-2.4zM205.2 82.7l1.2 2.1h-2.4zM206.2 110l1.2 2.1h-2.4zM209 77.3l1.2 2.1h-2.4zM213.4 111.5l1.2 2.1h-2.4zM215.3 98.2l1.2 2.1h-2.4zM209.1 88.2l1.2 2.1h-2.4zM208 104.7l1.2 2.1h-2.4zM215.4 91.7l1.2 2.1h-2.4zM216.3 98.4l1.2 2.1h-2.4zM213.6 82.6l1.2 2.1h-2.4zM207.1 81l1.2 2.1h-2.4zM217 104.4l1.2 2.1h-2.4zM216.8 105.4l1.2 2.1h-2.4zM215.4 89.5l1.2 2.1h-2.4zM214.8 78.5l1.2 2.1h-2.4zM213.2 73.4l1.2 2.1h-2.4zM217.8 107.7l1.2 2.1h-2.4zM205.9 103.1l1.2 2.1h-2.4zM215.7 73.4l1.2 2.1h-2.4zM211.9 88.9l1.2 2.1h-2.4zM212.7 108l1.2 2.1h-2.4zM214.2 80.3l1.2 2.1h-2.4zM211.7 94.7l1.2 2.1h-2.4zM208.8 78.9l1.2 2.1h-2.4zM207 99.3l1.2 2.1h-2.4zM217.7 90.4l1.2 2.1h-2.4zM213.1 102.8l1.2 2.1h-2.4zM213.5 98.6l1.2 2.1h-2.4zM205.9 79l1.2 2.1h-2.4zM211 95.7l1.2 2.1h-2.4zM214.7 83.6l1.2 2.1h-2.4zM217.5 97.4l1.2 2.1h-2.4zM216 91.2l1.2 2.1h-2.4zM213 89.1l1.2 2.1h-2.4zM210 85l1.2 2.1h-2.4zM206.1 91l1.2 2.1h-2.4zM207.3 108.2l1.2 2.1h-2.4zM206.1 111.3l1.2 2.1h-2.4zM216.2 87.4l1.2 2.1h-2.4zM214.9 95.4l1.2 2.1h-2.4zM210.4 104.9l1.2 2.1h-2.4zM215.8 79.9l1.2 2.1h-2.4zM216.9 72.9l1.2 2.1h-2.4zM208 89l1.2 2.1h-2.4zM210.6 90.8l1.2 2.1h-2.4zM216.9 109.3l1.2 2.1h-2.4zM208.6 83.4l1.2 2.1h-2.4zM213.2 79.8l1.2 2.1h-2.4zM209.4 101.1l1.2 2.1h-2.4zM214.4 87.5l1.2 2.1h-2.4zM207.2 93.8l1.2 2.1h-2.4zM207.9 105.3l1.2 2.1h-2.4zM212.2 84.2l1.2 2.1h-2.4zM215.5 96.5l1.2 2.1h-2.4zM205.5 88.6l1.2 2.1h-2.4zM210.7 110.4l1.2 2.1h-2.4zM208.2 90l1.2 2.1h-2.4zM218 89.1l1.2 2.1h-2.4zM215.7 75.6l1.2 2.1h-2.4zM209.3 79.2l1.2 2.1h-2.4zM216.6 94.3l1.2 2.1h-2.4zM206.7 75.4l1.2 2.1h-2.4zM209.7 75.6l1.2 2.1h-2.4zM210.7 101.5l1.2 2.1h-2.4zM208.1 78.5l1.2 2.1h-2.4zM208.9 78.4l1.2 2.1h-2.4zM216 75.6l1.2 2.1h-2.4zM214.5 85.3l1.2 2.1h-2.4zM214.3 103.2l1.2 2.1h-2.4zM205.5 102.6l1.2 2.1h-2.4zM217.5 94.9l1.2 2.1h-2.4zM213 84.9l1.2 2.1h-2.4zM206.1 102.1l1.2 2.1h-2.4zM215.6 80.1l1.2 2.1h-2.4zM205.2 86.1l1.2 2.1h-2.4zM212.8 86.6l1.2 2.1h-2.4zM217.8 104.1l1.2 2.1h-2.4zM217.1 96.2l1.2 2.1h-2.4zM214.7 110.6l1.2 2.1h-2.4zM204 95.2l1.2 2.1h-2.4zM206.3 104.2l1.2 2.1h-2.4zM206.9 102l1.2 2.1h-2.4zM208.4 98.3l1.2 2.1h-2.4zM213.5 108.9l1.2 2.1h-2.4zM216.4 89.6l1.2 2.1h-2.4zM213.7 79.1l1.2 2.1h-2.4zM205 100.9l1.2 2.1h-2.4zM216.9 102.2l1.2 2.1h-2.4zM211.1 97.4l1.2 2.1h-2.4zM214.3 95l1.2 2.1h-2.4zM208.9 106.5l1.2 2.1h-2.4zM209 108.7l1.2 2.1h-2.4zM215.3 104.1l1.2 2.1h-2.4zM215.8 112.1l1.2 2.1h-2.4zM218.1 92.2l1.2 2.1h-2.4zM209.1 101.7l1.2 2.1h-2.4zM217.8 97.5l1.2 2.1h-2.4zM210.4 103.9l1.2 2.1h-2.4zM216.6 87l1.2 2.1h-2.4zM211.2 92.7l1.2 2.1h-2.4zM211.3 92.3l1.2 2.1h-2.4zM216.3 79.1l1.2 2.1h-2.4zM216.1 82.7l1.2 2.1h-2.4zM211.5 100.6l1.2 2.1h-2.4zM205.7 110.4l1.2 2.1h-2.4zM217.7 111.4l1.2 2.1h-2.4zM213.4 107.7l1.2 2.1h-2.4zM206.5 76.7l1.2 2.1h-2.4zM215.5 82.4l1.2 2.1h-2.4zM213 93.6l1.2 2.1h-2.4zM214.6 104.7l1.2 2.1h-2.4zM216.5 109.9l1.2 2.1h-2.4zM214.9 87.4l1.2 2.1h-2.4zM207.2 109l1.2 2.1h-2.4zM209.7 91.6l1.2 2.1h-2.4zM213.8 99.9l1.2 2.1h-2.4zM213.8 97.2l1.2 2.1h-2.4zM211 103.1l1.2 2.1h-2.4zM209.4 82.4l1.2 2.1h-2.4zM217 106.3l1.2 2.1h-2.4zM214.1 78.5l1.2 2.1h-2.4zM217.5 82.8l1.2 2.1h-2.4zM212.8 72.4l1.2 2.1h-2.4zM209.3 100.5l1.2 2.1h-2.4zM208.8 104.7l1.2 2.1h-2.4zM217 77.3l1.2 2.1h-2.4zM213.7 87l1.2 2.1h-2.4zM206.1 85.9l1.2 2.1h-2.4zM210.6 108.4l1.2 2.1h-2.4zM214.8 71.8l1.2 2.1h-2.4zM211.7 96.6l1.2 2.1h-2.4zM208.7 105.7l1.2 2.1h-2.4zM211.7 95.9l1.2 2.1h-2.4zM207.2 103.5l1.2 2.1h-2.4zM206.7 77.3l1.2 2.1h-2.4zM212.3 105.8l1.2 2.1h-2.4zM207.8 84l1.2 2.1h-2.4zM205.7 96.4l1.2 2.1h-2.4zM214.9 76.8l1.2 2.1h-2.4zM211.4 93.8l1.2 2.1h-2.4zM205.1 93.4l1.2 2.1h-2.4zM207.5 79.8l1.2 2.1h-2.4zM208.6 97l1.2 2.1h-2.4zM209.5 72.4l1.2 2.1h-2.4zM216.3 81.4l1.2 2.1h-2.4zM209.6 108.9l1.2 2.1h-2.4zM217.8 109.1l1.2 2.1h-2.4zM209.6 102.1l1.2 2.1h-2.4zM216.1 79.7l1.2 2.1h-2.4zM217.8 75.8l1.2 2.1h-2.4zM213.2 81.4l1.2 2.1h-2.4zM206.7 77.3l1.2 2.1h-2.4zM217.4 76.9l1.2 2.1h-2.4zM217 78.4l1.2 2.1h-2.4zM208.4 80.3l1.2 2.1h-2.4zM216.2 83.9l1.2 2.1h-2.4zM217.6 102.4l1.2 2.1h-2.4zM207.4 92.5l1.2 2.1h-2.4zM205.9 88.3l1.2 2.1h-2.4zM203.9 99.6l1.2 2.1h-2.4zM212.3 82.8l1.2 2.1h-2.4zM205.3 85.1l1.2 2.1h-2.4zM209.4 93.5l1.2 2.1h-2.4zM208.3 81.9l1.2 2.1h-2.4zM215.1 83.1l1.2 2.1h-2.4zM208.4 91.8l1.2 2.1h-2.4zM207.6 101.4l1.2 2.1h-2.4zM209.7 82.2l1.2 2.1h-2.4zM215.9 86.1l1.2 2.1h-2.4zM209.7 90.8l1.2 2.1h-2.4z" fill="#2143d2"/>
<path d="M209.3 73.7l1.2 2.1h-2.4zM207.1 73l1.2 2.1h-2.4zM209.2 75l1.2 2.1h-2.4zM206.9 71.7l1.2 2.1h-2.4zM209.5 78.9l1.2 2.1h-2.4zM208.8 80.4l1.2 2.1h-2.4zM208.8 72.4l1.2 2.1h-2.4zM207 71.5l1.2 2.1h-2.4zM208.4 72.8l1.2 2.1h-2.4zM206.5 76.9l1.2 2.1h-2.4zM207.6 73.4l1.2 2.1h-2.4zM206.4 79.7l1.2 2.1h-2.4zM209.2 71.5l1.2 2.1h-2.4zM207.2 74.8l1.2 2.1h-2.4zM208.2 79.1l1.2 2.1h-2.4zM207.6 82.8l1.2 2.1h-2.4zM207.6 74.9l1.2 2.1h-2.4zM209.1 82.4l1.2 2.1h-2.4zM209.5 73l1.2 2.1h-2.4zM206.8 77.1l1.2 2.1h-2.4zM209.9 79.3l1.2 2.1h-2.4zM208.5 75.2l1.2 2.1h-2.4zM210 73.2l1.2 2.1h-2.4zM208.2 80.1l1.2 2.1h-2.4zM209.2 82l1.2 2.1h-2.4z" fill="#2a9df4"/>
<path d="M201 87.2l1.2 2.1h-2.4zM203 90.6l1.2 2.1h-2.4zM202 94.6l1.2 2.1h-2.4zM204 82.6l1.2 2.1h-2.4zM199.5 97.6l1.2 2.1h-2.4z" fill="#2a9df4"/>
<path d="M210 99.4l1.1 2h-2.3zM217.7 105.3l1.1 2h-2.3zM208.7 96.6l1.1 2h-2.3zM215.4 111.5l1.1 2h-2.3zM212.4 101.7l1.1 2h-2.3zM213.6 114.3l1.1 2h-2.3zM212.5 110.2l1.1 2h-2.3zM216.5 109.6l1.1 2h-2.3zM211.3 97.4l1.1 2h-2.3zM214.1 111.1l1.1 2h-2.3zM217.5 96.9l1.1 2h-2.3zM206.5 107l1.1 2h-2.3zM215.8 95.3l1.1 2h-2.3zM213 99.3l1.1 2h-2.3zM218 101.3l1.1 2h-2.3zM206.1 110.1l1.1 2h-2.3zM208.9 102.5l1.1 2h-2.3zM206.7 100.6l1.1 2h-2.3zM206.7 99.1l1.1 2h-2.3zM212.5 100l1.1 2h-2.3zM213.7 112.6l1.1 2h-2.3zM212.5 94.3l1.1 2h-2.3zM217.5 97.8l1.1 2h-2.3zM209.5 104.7l1.1 2h-2.3zM213 100.9l1.1 2h-2.3zM210.7 106.8l1.1 2h-2.3zM210.9 99.6l1.1 2h-2.3zM210.3 101.8l1.1 2h-2.3zM208.8 106.3l1.1 2h-2.3zM211.7 102.3l1.1 2h-2.3zM214.2 110.7l1.1 2h-2.3zM213.4 100.9l1.1 2h-2.3zM217.2 95.9l1.1 2h-2.3zM215.5 102.5l1.1 2h-2.3zM210.2 111.4l1.1 2h-2.3zM213.5 114.1l1.1 2h-2.3zM216.4 96.1l1.1 2h-2.3zM211.5 109.8l1.1 2h-2.3zM206.1 105.1l1.1 2h-2.3zM217.9 98.7l1.1 2h-2.3zM206.5 99.8l1.1 2h-2.3zM209.5 99.7l1.1 2h-2.3zM210.6 111.2l1.1 2h-2.3zM211.7 106.1l1.1 2h-2.3zM206.4 95l1.1 2h-2.3zM217.4 101l1.1 2h-2.3zM217.3 100.7l1.1 2h-2.3zM213.3 107.6l1.1 2h-2.3zM206.2 95.2l1.1 2h-2.3zM210.7 96.4l1.1 2h-2.3zM208.8 97.8l1.1 2h-2.3zM209.1 103.3l1.1 2h-2.3zM209 100.7l1.1 2h-2.3zM211.3 108l1.1 2h-2.3zM205.5 114.6l1.1 2h-2.3zM210.6 113.1l1.1 2h-2.3zM205.1 94.9l1.1 2h-2.3zM206.3 112.9l1.1 2h-2.3zM210.4 111.5l1.1 2h-2.3zM214 95.5l1.1 2h-2.3z" fill="#3c9a28"/>
<path d="M200.6 71.9l1.3 2.3h-2.6zM200 78.5l1.3 2.3h-2.6zM198 84.5l1.3 2.3h-2.6zM196 90.5l1.3 2.3h-2.6zM201 96.5l1.3 2.3h-2.6zM199 102.5l1.3 2.3h-2.6zM203 106.5l1.3 2.3h-2.6zM196 109.5l1.3 2.3h-2.6z" fill="#fff" stroke="#4646d0" stroke-width="0.45"/>
<path d="M198 103.2l1.1 1.9h-2.2zM199.5 103.2l1.1 1.9h-2.2zM201 103.2l1.1 1.9h-2.2zM202.5 103.2l1.1 1.9h-2.2zM204 103.2l1.1 1.9h-2.2zM205.5 103.2l1.1 1.9h-2.2zM207 103.2l1.1 1.9h-2.2zM208.5 103.2l1.1 1.9h-2.2zM210 103.2l1.1 1.9h-2.2zM211.5 103.2l1.1 1.9h-2.2zM213 103.2l1.1 1.9h-2.2zM214.5 103.2l1.1 1.9h-2.2zM216 103.2l1.1 1.9h-2.2z" fill="#2143d2"/>
<path d="M197 107l1.1 1.9h-2.2zM198.5 107l1.1 1.9h-2.2zM200 107l1.1 1.9h-2.2zM201.5 107l1.1 1.9h-2.2zM203 107l1.1 1.9h-2.2zM204.5 107l1.1 1.9h-2.2zM206 107l1.1 1.9h-2.2zM207.5 107l1.1 1.9h-2.2zM209 107l1.1 1.9h-2.2zM210.5 107l1.1 1.9h-2.2zM212 107l1.1 1.9h-2.2zM213.5 107l1.1 1.9h-2.2zM215 107l1.1 1.9h-2.2zM216.5 107l1.1 1.9h-2.2z" fill="#2f8f2f"/>
<path d="M196 110.9l1.1 1.9h-2.2zM197.5 110.9l1.1 1.9h-2.2zM199 110.9l1.1 1.9h-2.2zM200.5 110.9l1.1 1.9h-2.2zM202 110.9l1.1 1.9h-2.2zM203.5 110.9l1.1 1.9h-2.2zM205 110.9l1.1 1.9h-2.2zM206.5 110.9l1.1 1.9h-2.2zM208 110.9l1.1 1.9h-2.2zM209.5 110.9l1.1 1.9h-2.2zM211 110.9l1.1 1.9h-2.2zM212.5 110.9l1.1 1.9h-2.2zM214 110.9l1.1 1.9h-2.2zM215.5 110.9l1.1 1.9h-2.2zM217 110.9l1.1 1.9h-2.2z" fill="#2143d2"/>
<path d="M195 113l1.1 1.9h-2.2zM196.5 113l1.1 1.9h-2.2zM198 113l1.1 1.9h-2.2zM199.5 113l1.1 1.9h-2.2zM201 113l1.1 1.9h-2.2zM202.5 113l1.1 1.9h-2.2zM204 113l1.1 1.9h-2.2zM205.5 113l1.1 1.9h-2.2zM207 113l1.1 1.9h-2.2zM208.5 113l1.1 1.9h-2.2zM210 113l1.1 1.9h-2.2zM211.5 113l1.1 1.9h-2.2zM213 113l1.1 1.9h-2.2zM214.5 113l1.1 1.9h-2.2zM216 113l1.1 1.9h-2.2z" fill="#3c9a28"/>
<path d="M191 116.5l1.1 2h-2.3zM192.2 116.5l1.1 2h-2.3zM193.4 116.5l1.1 2h-2.3zM194.6 116.5l1.1 2h-2.3zM195.8 116.5l1.1 2h-2.3zM197 116.5l1.1 2h-2.3zM198.2 116.5l1.1 2h-2.3zM199.4 116.5l1.1 2h-2.3zM200.6 116.5l1.1 2h-2.3zM201.8 116.5l1.1 2h-2.3zM203 116.5l1.1 2h-2.3zM204.2 116.5l1.1 2h-2.3zM205.4 116.5l1.1 2h-2.3zM206.6 116.5l1.1 2h-2.3zM207.8 116.5l1.1 2h-2.3zM209 116.5l1.1 2h-2.3zM210.2 116.5l1.1 2h-2.3zM211.4 116.5l1.1 2h-2.3zM212.6 116.5l1.1 2h-2.3zM213.8 116.5l1.1 2h-2.3zM215 116.5l1.1 2h-2.3z" fill="#1a8a1a"/>
<path d="M358.8 25.9L375.9 25.9M299.5 141.5L375.9 25.9M299.5 141.5L290.9 128.7M350.3 38.8L384.4 38.8M316.5 141.5L384.4 38.8M316.5 141.5L299.4 115.8M341.8 51.6L393 51.6M333.6 141.5L393 51.6M333.6 141.5L307.9 103M333.3 64.5L401.6 64.5M350.6 141.5L401.6 64.5M350.6 141.5L316.4 90.1M324.9 77.3L410.1 77.3M367.7 141.5L410.1 77.3M367.7 141.5L324.9 77.3M316.4 90.1L418.7 90.1M384.8 141.5L418.7 90.1M384.8 141.5L333.3 64.5M307.9 103L427.3 103M401.8 141.5L427.3 103M401.8 141.5L341.8 51.6M299.4 115.8L435.9 115.8M418.9 141.5L435.9 115.8M418.9 141.5L350.3 38.8M290.9 128.7L444.4 128.7M435.9 141.5L444.4 128.7M435.9 141.5L358.8 25.9" stroke="#cdcdcd" stroke-width="0.6" fill="none"/>
<path d="M367.3 13.1L282.4 141.5L453 141.5Z" stroke="#666" stroke-width="0.8" fill="none"/>
<text x="357.2" y="26.5" font-size="6.2" text-anchor="end" fill="#444">10</text>
<text x="380.2" y="27.1" font-size="6.2" fill="#444">90</text>
<text x="299.5" y="148.5" font-size="6.2" text-anchor="middle" fill="#444">10</text>
<text x="348.7" y="39.4" font-size="6.2" text-anchor="end" fill="#444">20</text>
<text x="388.7" y="40" font-size="6.2" fill="#444">80</text>
<text x="316.5" y="148.5" font-size="6.2" text-anchor="middle" fill="#444">20</text>
<text x="340.2" y="52.2" font-size="6.2" text-anchor="end" fill="#444">30</text>
<text x="397.3" y="52.8" font-size="6.2" fill="#444">70</text>
<text x="333.6" y="148.5" font-size="6.2" text-anchor="middle" fill="#444">30</text>
<text x="331.7" y="65.1" font-size="6.2" text-anchor="end" fill="#444">40</text>
<text x="405.9" y="65.7" font-size="6.2" fill="#444">60</text>
<text x="350.6" y="148.5" font-size="6.2" text-anchor="middle" fill="#444">40</text>
<text x="323.2" y="77.9" font-size="6.2" text-anchor="end" fill="#444">50</text>
<text x="414.4" y="78.5" font-size="6.2" fill="#444">50</text>
<text x="367.7" y="148.5" font-size="6.2" text-anchor="middle" fill="#444">50</text>
<text x="314.8" y="90.7" font-size="6.2" text-anchor="end" fill="#444">60</text>
<text x="423" y="91.3" font-size="6.2" fill="#444">40</text>
<text x="384.8" y="148.5" font-size="6.2" text-anchor="middle" fill="#444">60</text>
<text x="306.3" y="103.6" font-size="6.2" text-anchor="end" fill="#444">70</text>
<text x="431.6" y="104.2" font-size="6.2" fill="#444">30</text>
<text x="401.8" y="148.5" font-size="6.2" text-anchor="middle" fill="#444">70</text>
<text x="297.8" y="116.4" font-size="6.2" text-anchor="end" fill="#444">80</text>
<text x="440.2" y="117" font-size="6.2" fill="#444">20</text>
<text x="418.9" y="148.5" font-size="6.2" text-anchor="middle" fill="#444">80</text>
<text x="289.3" y="129.3" font-size="6.2" text-anchor="end" fill="#444">90</text>
<text x="448.7" y="129.9" font-size="6.2" fill="#444">10</text>
<text x="435.9" y="148.5" font-size="6.2" text-anchor="middle" fill="#444">90</text>
<text x="370" y="9.3" font-size="6.9" font-weight="bold" text-anchor="middle" fill="#222">Fe (ppm)</text>
<text x="274.1" y="150.5" font-size="6.75" font-weight="bold" text-anchor="middle" fill="#222">As (ppm)</text>
<text x="463.8" y="152" font-size="6.96" font-weight="bold" text-anchor="middle" fill="#222">S (ppm)</text>
<text x="451" y="29.5" font-size="9.5" font-weight="bold" text-anchor="middle" fill="#222">b</text>
<text x="337.5" y="165" font-size="6.8" font-weight="bold" text-anchor="middle" fill="#222">As</text>
<text x="408.7" y="167" font-size="6.8" font-weight="bold" text-anchor="middle" fill="#222">S</text>
<line x1="346" y1="163.9" x2="402.7" y2="163.9" stroke="#222" stroke-width="1.05"/>
<path d="M402.7 163.9L399.1 165.5L399.1 162.3Z" fill="#222"/>
<path d="M346 163.9L349.6 162.3L349.6 165.5Z" fill="#222"/>
<line x1="294.5" y1="78.8" x2="314.5" y2="51.2" stroke="#222" stroke-width="1.05"/>
<path d="M314.5 51.2L313.7 55.1L311.1 53.2Z" fill="#222"/>
<path d="M294.5 78.8L295.3 74.9L297.9 76.8Z" fill="#222"/>
<text x="320" y="47.5" font-size="6.2" font-weight="bold" stroke="#222" stroke-width="0.16" text-anchor="middle" fill="#222" transform="rotate(-54 320 47.5)">Fe</text>
<text x="291.5" y="85" font-size="6.2" font-weight="bold" stroke="#222" stroke-width="0.16" text-anchor="middle" fill="#222" transform="rotate(-54 291.5 85)">As</text>
<line x1="422.2" y1="52.5" x2="443.5" y2="83" stroke="#222" stroke-width="1.05"/>
<path d="M443.5 83L440.1 81L442.8 79.1Z" fill="#222"/>
<path d="M422.2 52.5L425.6 54.5L422.9 56.4Z" fill="#222"/>
<text x="415.8" y="47" font-size="6.2" font-weight="bold" stroke="#222" stroke-width="0.16" text-anchor="middle" fill="#222" transform="rotate(55 415.8 47)">Fe</text>
<text x="448.5" y="93" font-size="6.2" font-weight="bold" stroke="#222" stroke-width="0.16" text-anchor="middle" fill="#222" transform="rotate(55 448.5 93)">Me<tspan dy="-2" font-size="4">2+</tspan></text>
<path d="M382.5 77.5h.01M366 87h.01M357.5 92.5h.01M355 102.5h.01M390 82.5h.01M397.5 85h.01M400 83.8h.01M409.5 87.5h.01M392 87h.01M386 90h.01M395 91h.01M404 80h.01M371 97h.01M377 95h.01M353.5 104.5h.01M356 106h.01M363 99h.01M402 91h.01M396 79h.01M388 96h.01M380 80h.01M361 102h.01" stroke="#8c8c8c" stroke-width="3.3" stroke-linecap="round" fill="none"/>
<path d="M382.5 77.5h.01M366 87h.01M357.5 92.5h.01M355 102.5h.01M390 82.5h.01M397.5 85h.01M400 83.8h.01M409.5 87.5h.01M392 87h.01M386 90h.01M395 91h.01M404 80h.01M371 97h.01M377 95h.01M353.5 104.5h.01M356 106h.01M363 99h.01M402 91h.01M396 79h.01M388 96h.01M380 80h.01M361 102h.01" stroke="#fff" stroke-width="2.1" stroke-linecap="round" fill="none"/>
<path d="M404.3 68.8h.01M404.2 69.3h.01M414.5 84.4h.01M415.5 86.2h.01M416.6 87.6h.01M409.6 77h.01M424.8 100h.01M413 82.6h.01M404.1 68.2h.01M420 93.2h.01M404 68.1h.01M402.6 66.7h.01M405.5 71.1h.01M417.9 89h.01M422.4 96h.01M415.2 85.2h.01M410.3 78.1h.01M402.6 66.5h.01M408.6 75.4h.01M406.3 71.9h.01M418 90.2h.01M406.6 73.1h.01M416.7 87.3h.01M402.5 66.9h.01M408.1 74.4h.01M417.2 88.7h.01M422.8 96.8h.01M409.7 77h.01M407 73.4h.01M424.2 98.4h.01M411.4 79.5h.01M404.2 69.1h.01M425 99.8h.01M418.7 91.1h.01M408.3 75.6h.01M419.3 91.9h.01M407.1 73h.01M404.5 69.8h.01M421.2 93.9h.01M414.8 84.5h.01M419.8 92.4h.01M423.8 98.6h.01M404.9 69.8h.01M415.2 86h.01M411.1 79h.01M409.1 76h.01M406.1 71.6h.01M408.1 74.9h.01M422.4 96.8h.01M406 71.8h.01M418 89.3h.01M414.8 84.5h.01M410.9 78.8h.01M421.2 94.1h.01M414.7 84.8h.01M409.6 77.6h.01M410.1 77.7h.01M418.2 90h.01M419.2 91h.01M405.6 71.4h.01M411 79.6h.01M408 74.3h.01M422.2 95.8h.01M405.2 70.1h.01M420.1 92.6h.01M414.8 85.3h.01M416.1 87.2h.01M424.8 99.6h.01M422.3 96.2h.01M407.3 73.2h.01" stroke="#f7941d" stroke-width="2.1" stroke-linecap="round" fill="none"/>
<path d="M411.6 82.7h.01M418.4 93.6h.01M406.3 75.8h.01M415.7 89.3h.01M408.3 78.2h.01M420.8 97.1h.01M413.3 85.9h.01M414.8 88.2h.01M409.5 79.6h.01M405.8 75h.01M406.2 74.8h.01M415.5 89h.01M420.9 96.7h.01M408.1 77.5h.01M414.3 86.9h.01M413.2 85.8h.01M411 82.6h.01M406.2 75.2h.01M420.3 96.9h.01M414.8 88.7h.01M410 80.5h.01M413.2 85.7h.01M419.3 94.7h.01M406.5 75.9h.01M409.2 80.2h.01M409.6 79.9h.01M408.4 78.1h.01M416 89.4h.01M406.6 75.9h.01M418.3 92.7h.01M413.3 85.1h.01M406.3 75.1h.01M410.2 81.7h.01M406 75.1h.01M418 92.6h.01" stroke="#f7941d" stroke-width="2.1" stroke-linecap="round" fill="none"/>
<path d="M415.6 88.9h.01M411.2 83h.01M411.7 83.1h.01M408 78.5h.01M421.9 98.2h.01M408.1 78h.01M409.7 80.5h.01M418.8 94h.01M414.4 87.9h.01M416 89.1h.01M412.1 84.1h.01M409.8 81h.01M420.4 95.8h.01M409.5 80.2h.01M404.1 69h.01M423.8 98.5h.01M417.7 90.1h.01" stroke="#ee1d23" stroke-width="2.1" stroke-linecap="round" fill="none"/>
<path d="M412 81.4h.01M412.9 83.1h.01M414.6 86.1h.01M413.9 85.3h.01M414.9 85.4h.01M409 76.1h.01M410.3 78.3h.01M414.6 85.7h.01M414.1 84.5h.01M412.5 81.8h.01M418.3 90h.01M410.4 79.2h.01M408.3 76.7h.01M412.6 82.1h.01M407.7 74.6h.01M414 84h.01M407.1 74.3h.01M409.8 78.9h.01M414.6 85.9h.01M416.9 89.4h.01M410.5 79.4h.01M410.1 78.1h.01M409.6 77.1h.01M409.9 77.7h.01M415 85.5h.01M407.3 74.3h.01M408.8 77.1h.01M409.2 77.4h.01M408.8 76.6h.01M417.3 89h.01M413 82.9h.01M408.1 74.7h.01M416.9 88.6h.01M415 85.8h.01M417.1 88.5h.01M412.4 82.1h.01M416.8 87.7h.01M411 80h.01M414.2 84h.01M412.9 83.2h.01M415.8 86.6h.01M412.2 81.4h.01M411.5 80.4h.01M418.6 90.4h.01M418.6 90.5h.01M407.9 74.8h.01M409.6 78.6h.01M416.2 88.6h.01M411.9 80.5h.01M413.6 84.7h.01M407.5 75.4h.01M406.3 73.5h.01M412 82.3h.01M417.7 89.2h.01M412.9 82.4h.01M412.5 81.3h.01M411.1 79.9h.01M406.7 73.5h.01M417.9 89.5h.01M418 90.4h.01" stroke="#4a4a4a" stroke-width="2.1" stroke-linecap="round" fill="none"/>
<path d="M408.9 77.2h.01" stroke="#b0b0b0" stroke-width="2.4" stroke-linecap="round" fill="none"/>
<path d="M409.3 87h.01M412.6 91.1h.01" stroke="#a0a0a0" stroke-width="2.4" stroke-linecap="round" fill="none"/>
<path d="M452.5 141.2h.01" stroke="#ee1d23" stroke-width="2.8" stroke-linecap="round" fill="none"/>
<line x1="423.8" y1="99.8" x2="369.5" y2="99.8" stroke="#333" stroke-width="0.8"/>
<path d="M369.5 99.8L372.5 98.5L372.5 101.1Z" fill="#333"/>
<text x="398" y="97.2" font-size="6.0" font-weight="bold" stroke="#222" stroke-width="0.16" text-anchor="middle" fill="#222">As<tspan dy="-2" font-size="3.6">1−</tspan><tspan dy="2">-pyrite</tspan></text>
<line x1="423.8" y1="100.5" x2="401.5" y2="133" stroke="#333" stroke-width="0.8"/>
<path d="M401.5 133L402.1 129.8L404.3 131.3Z" fill="#333"/>
<text x="408.5" y="118" font-size="6.0" font-weight="bold" stroke="#222" stroke-width="0.16" text-anchor="middle" fill="#222" transform="rotate(-56 408.5 118)">As<tspan dy="-2" font-size="3.6">1−</tspan><tspan dy="2">-pyrite</tspan></text>
<line x1="424" y1="100.5" x2="421.3" y2="133.5" stroke="#333" stroke-width="0.8"/>
<path d="M421.3 133.5L420.2 130.4L422.9 130.6Z" fill="#333"/>
<text x="429.2" y="118" font-size="6.0" font-weight="bold" stroke="#222" stroke-width="0.16" text-anchor="middle" fill="#222" transform="rotate(-85 429.2 118)">As<tspan dy="-2" font-size="3.6">2−</tspan><tspan dy="2">-pyrite</tspan></text>
<rect x="26.3" y="198.3" width="197.9" height="139.7" fill="none" stroke="#cfcfcf" stroke-width="0.8"/>
<path d="M26.3 338v1.3M38.2 338v1.3M45.2 338v1.3M50.1 338v1.3M54 338v1.3M57.1 338v1.3M59.7 338v1.3M62 338v1.3M64.1 338v1.3M65.9 338v1.3M77.8 338v1.3M84.8 338v1.3M89.7 338v1.3M93.5 338v1.3M96.7 338v1.3M99.3 338v1.3M101.6 338v1.3M103.6 338v1.3M105.5 338v1.3M117.4 338v1.3M124.3 338v1.3M129.3 338v1.3M133.1 338v1.3M136.3 338v1.3M138.9 338v1.3M141.2 338v1.3M143.2 338v1.3M145 338v1.3M157 338v1.3M163.9 338v1.3M168.9 338v1.3M172.7 338v1.3M175.8 338v1.3M178.5 338v1.3M180.8 338v1.3M182.8 338v1.3M184.6 338v1.3M196.5 338v1.3M203.5 338v1.3M208.4 338v1.3M212.3 338v1.3M215.4 338v1.3M218.1 338v1.3M220.4 338v1.3M222.4 338v1.3M224.2 338v1.3" stroke="#c8c8c8" stroke-width="0.5"/>
<path d="M26.3 338h-1.3M26.3 331h-1.3M26.3 326.9h-1.3M26.3 324h-1.3M26.3 321.7h-1.3M26.3 319.9h-1.3M26.3 318.3h-1.3M26.3 317h-1.3M26.3 315.8h-1.3M26.3 314.7h-1.3M26.3 307.7h-1.3M26.3 303.6h-1.3M26.3 300.7h-1.3M26.3 298.4h-1.3M26.3 296.6h-1.3M26.3 295h-1.3M26.3 293.7h-1.3M26.3 292.5h-1.3M26.3 291.4h-1.3M26.3 284.4h-1.3M26.3 280.3h-1.3M26.3 277.4h-1.3M26.3 275.2h-1.3M26.3 273.3h-1.3M26.3 271.8h-1.3M26.3 270.4h-1.3M26.3 269.2h-1.3M26.3 268.1h-1.3M26.3 261.1h-1.3M26.3 257h-1.3M26.3 254.1h-1.3M26.3 251.9h-1.3M26.3 250h-1.3M26.3 248.5h-1.3M26.3 247.1h-1.3M26.3 245.9h-1.3M26.3 244.9h-1.3M26.3 237.9h-1.3M26.3 233.8h-1.3M26.3 230.8h-1.3M26.3 228.6h-1.3M26.3 226.7h-1.3M26.3 225.2h-1.3M26.3 223.8h-1.3M26.3 222.6h-1.3M26.3 221.6h-1.3M26.3 214.6h-1.3M26.3 210.5h-1.3M26.3 207.6h-1.3M26.3 205.3h-1.3M26.3 203.5h-1.3M26.3 201.9h-1.3M26.3 200.6h-1.3M26.3 199.4h-1.3M26.3 198.3h-1.3" stroke="#c8c8c8" stroke-width="0.5"/>
<text x="20.3" y="201.3" font-size="5.4" text-anchor="end" fill="#333">1000</text>
<text x="20.3" y="224.8" font-size="5.4" text-anchor="end" fill="#333">100</text>
<text x="20.3" y="247.9" font-size="5.4" text-anchor="end" fill="#333">10</text>
<text x="20.3" y="271.3" font-size="5.4" text-anchor="end" fill="#333">1</text>
<text x="20.3" y="294.9" font-size="5.4" text-anchor="end" fill="#333">0.1</text>
<text x="20.3" y="318.2" font-size="5.4" text-anchor="end" fill="#333">0.01</text>
<text x="20.3" y="340.9" font-size="5.4" text-anchor="end" fill="#333">0.001</text>
<text x="28.5" y="346" font-size="6.3" text-anchor="middle" fill="#222">0.01</text>
<text x="67.5" y="346" font-size="6.3" text-anchor="middle" fill="#222">0.1</text>
<text x="106.3" y="346" font-size="6.3" text-anchor="middle" fill="#222">1</text>
<text x="146.6" y="346" font-size="6.3" text-anchor="middle" fill="#222">10</text>
<text x="187.2" y="346" font-size="6.3" text-anchor="middle" fill="#222">100</text>
<text x="221.1" y="346" font-size="6.3" text-anchor="middle" fill="#222">1000</text>
<text x="133.3" y="368.3" font-size="8.2" font-weight="bold" text-anchor="middle" fill="#111">Ag (ppm)</text>
<text x="8.6" y="268" font-size="8.6" font-weight="bold" text-anchor="middle" fill="#111" transform="rotate(-90 8.6 268)">Au (ppm)</text>
<text x="35" y="209" font-size="8.5" font-weight="bold" text-anchor="middle" fill="#222">c</text>
<line x1="26.3" y1="268.5" x2="148" y2="198.3" stroke="#aaa" stroke-width="0.7"/>
<line x1="26.3" y1="337.8" x2="224.2" y2="225.8" stroke="#aaa" stroke-width="0.7"/>
<path d="M26.8 242.8h.01M28.4 242.5h.01M26.9 244.2h.01M28.1 243.7h.01M26.8 245h.01M28.6 245.3h.01M27.1 247h.01M28.4 246.5h.01M27 248.1h.01M28.3 247.9h.01M26.9 249.7h.01M28.2 249.8h.01M26.8 250.7h.01M28.1 250.8h.01M26.9 252.4h.01M28.7 252.1h.01M27.2 253.6h.01M28.3 253.4h.01M27.3 255h.01M28.5 254.8h.01M27.1 256.3h.01M28.4 256.6h.01M26.8 257.9h.01M28.6 257.7h.01M27 259.1h.01M28.2 259.3h.01M27 260.8h.01M28.7 260.8h.01M26.9 262.1h.01M28.5 262.3h.01M27.1 263.5h.01M28.1 263.8h.01M26.8 264.8h.01M28.7 264.7h.01M27.3 266.1h.01M28.1 266.3h.01M27.2 267.6h.01M28.6 267.6h.01M27.2 268.8h.01M28.2 268.8h.01M27.2 270.5h.01M28.5 270.3h.01M27.2 272.2h.01M28.1 271.8h.01M27.3 273.5h.01M28.7 273.1h.01M27 274.4h.01M28.4 274.8h.01M62.1 252.9h.01M63.6 252.7h.01M62 254.6h.01M63.4 254.7h.01M62.6 256.1h.01M63.9 255.5h.01M62 257.1h.01M63.5 256.9h.01M62.6 258.9h.01M63.9 258.4h.01M62.5 260.2h.01M63.6 259.7h.01M62 261.3h.01M63.9 261.1h.01M62.3 262.7h.01M64 262.6h.01M62.4 264.1h.01M63.8 264.4h.01M62.5 265.8h.01M63.6 265.4h.01M62 266.8h.01M63.4 267.2h.01M62 268.2h.01M63.9 268.6h.01M62.6 269.7h.01M63.4 270h.01M62.2 271.4h.01M63.4 270.9h.01M62.4 272.7h.01M63.7 272.6h.01M62.4 273.7h.01M63.4 273.9h.01M62.3 275.2h.01M63.5 275.4h.01M62.2 276.6h.01M64 277.1h.01M62 278.2h.01M63.5 278.1h.01M62 279.3h.01M63.4 279.3h.01M62.4 280.7h.01M64 281.2h.01M62.1 282.5h.01M64 282.1h.01M62.3 283.8h.01M63.6 283.7h.01M62 285.3h.01M63.5 285.1h.01M63.1 246.5h.01M70.6 249.9h.01M71.6 250.3h.01M73.2 250h.01M74.3 250.1h.01M70.2 251.4h.01M71.6 251.1h.01M73.4 251.5h.01M74.8 251.3h.01M70.1 252.5h.01M71.6 252.7h.01M72.9 252.6h.01M74.4 253.1h.01M70.3 254.4h.01M71.4 254h.01M73.4 253.9h.01M74.2 254.2h.01M70.2 255.4h.01M71.8 255.7h.01M72.9 255.6h.01M74.5 255.8h.01M70 256.8h.01M71.7 256.7h.01M73.3 257.3h.01M74.4 257.2h.01M70.1 258.7h.01M71.5 258.1h.01M72.8 258.4h.01M74.2 258.7h.01M70.4 259.8h.01M71.8 259.7h.01M73.4 259.9h.01M74.5 259.6h.01M70.1 261.1h.01M71.6 260.9h.01M73.4 261h.01M74.5 260.9h.01M70.3 262.7h.01M71.4 262.9h.01M72.9 262.4h.01M74.7 262.5h.01M70.6 263.8h.01M71.6 264.1h.01M73.4 264.3h.01M74.4 264h.01M70.2 265.5h.01M71.5 265.6h.01M73.2 265.2h.01M74.4 265.3h.01M70.6 266.8h.01M71.8 267.1h.01M73 267.1h.01M74.4 266.5h.01M70 268.3h.01M71.6 268.4h.01M73.1 268.3h.01M74.4 268.3h.01M70.4 269.5h.01M71.7 269.8h.01M73.4 269.5h.01M74.2 269.8h.01M70.3 271.3h.01M71.9 270.9h.01M73.3 271h.01M74.6 271.3h.01M70.4 272.7h.01M71.6 272.3h.01M73.2 272.3h.01M74.6 272.4h.01M70.5 274h.01M71.7 274.1h.01M73.3 274h.01M74.2 273.5h.01M70.4 275.1h.01M72 275.1h.01M73.3 275h.01M74.6 275.5h.01M70.6 276.5h.01M71.7 276.6h.01M73 276.6h.01M74.8 276.9h.01M70.2 278.1h.01M72 277.9h.01M73.3 278.2h.01M74.8 277.7h.01M70.6 279.7h.01M71.5 279.5h.01M72.8 279.5h.01M74.6 279.6h.01M70.5 280.7h.01M71.4 281h.01M72.8 280.6h.01M74.3 281h.01M70.3 282.4h.01M71.8 282.4h.01M73.3 282.5h.01M74.3 282.1h.01M70.4 283.7h.01M71.9 283.8h.01M73 283.3h.01M74.7 283.7h.01M70.1 284.7h.01M71.4 284.8h.01M72.9 284.8h.01M74.2 284.8h.01M70.2 286.1h.01M71.5 286.4h.01M73.3 286.7h.01M74.4 286.1h.01M71 246.5h.01M82.3 251.6h.01M83.8 251.5h.01M85.5 251.6h.01M82.8 252.6h.01M83.8 252.6h.01M85.3 253h.01M82.3 254h.01M83.9 254.1h.01M85.1 254.2h.01M82.8 255.6h.01M84 255.6h.01M85.2 255.4h.01M82.3 257.3h.01M83.9 256.9h.01M85.6 257.4h.01M82.3 258.5h.01M83.9 258.3h.01M85.2 258.3h.01M82.7 259.6h.01M84.2 259.7h.01M85.2 259.6h.01M82.8 261.5h.01M83.6 261.3h.01M85.2 261.4h.01M82.4 263h.01M83.7 262.9h.01M85.1 262.8h.01M82.4 264.1h.01M83.9 264.2h.01M85 263.8h.01M82.8 265.3h.01M83.8 265.3h.01M85.4 265.8h.01M82.4 266.8h.01M83.8 266.6h.01M85 266.6h.01M82.4 268.6h.01M83.6 268.3h.01M85.1 268h.01M82.7 269.4h.01M83.6 269.9h.01M85.1 269.5h.01M82.8 270.9h.01M84.1 271h.01M85.3 271h.01M82.4 272.8h.01M84.2 272.3h.01M85.5 272.2h.01M82.4 273.6h.01M84 274.1h.01M85.5 274.1h.01M82.4 275.1h.01M83.6 275.3h.01M85.6 275.3h.01M82.6 277h.01M84.2 276.9h.01M85.4 276.5h.01M82.7 278h.01M84 277.9h.01M85.6 277.9h.01M82.7 279.8h.01M83.7 279.8h.01M85.4 279.6h.01M82.3 280.8h.01M83.7 280.9h.01M85.4 281.1h.01M82.6 282.2h.01M83.8 282.5h.01M85.6 282.1h.01M82.4 283.5h.01M84.2 283.4h.01M85.6 283.9h.01M82.4 285.2h.01M83.8 285.2h.01M85.2 285.4h.01M82.5 286.7h.01M84 286.4h.01M85.6 286.3h.01M90.8 249.3h.01M92.1 249.1h.01M93.4 249.3h.01M90.5 250.6h.01M92.1 250.7h.01M93.3 250.5h.01M90.2 251.5h.01M91.6 252h.01M93.2 252.1h.01M90.2 253h.01M92.1 253.1h.01M93.1 253.4h.01M90.3 254.9h.01M91.7 254.9h.01M93.3 254.9h.01M90.4 256.3h.01M91.8 256h.01M93.4 256h.01M90.6 257.5h.01M91.7 257.1h.01M93.5 257.5h.01M90.5 258.8h.01M92.2 258.7h.01M93.6 258.6h.01M90.6 260.5h.01M91.7 260.4h.01M93.1 259.9h.01M90.5 261.7h.01M91.7 261.9h.01M93 261.4h.01M90.4 262.9h.01M91.8 262.7h.01M93.1 262.8h.01M90.6 264.3h.01M92.1 264.4h.01M93.2 264.2h.01M90.3 266.1h.01M91.9 265.7h.01M93.1 266.1h.01M90.6 267.3h.01M92.1 267h.01M93.5 266.9h.01M90.6 268.5h.01M92 268.4h.01M93.2 268.7h.01M90.8 269.9h.01M91.7 269.7h.01M93.4 270.3h.01M90.2 271.3h.01M91.7 271.7h.01M93 271.1h.01M90.7 273.1h.01M92.1 272.5h.01M93.2 272.8h.01M90.8 274.4h.01M91.6 274.2h.01M93.5 274.2h.01M90.6 275.9h.01M92.2 275.8h.01M93.4 275.5h.01M90.3 276.8h.01M92 277.2h.01M93.6 277.3h.01M90.4 278.3h.01M91.7 278.4h.01M93.6 278.6h.01M90.5 279.6h.01M92.1 280.1h.01M93.5 279.7h.01M90.4 281.3h.01M92.2 281h.01M93.2 280.9h.01M90.2 282.4h.01M92.1 282.7h.01M93.3 282.5h.01M90.3 284.2h.01M91.9 283.7h.01M93.4 284.3h.01M90.2 285.7h.01M91.6 285.3h.01M93.6 285.7h.01M90.3 287h.01M92 286.7h.01M93.5 286.9h.01M94.5 248.3h.01M94.6 249.6h.01M94.7 250.7h.01M94.2 252h.01M94.6 253.7h.01M94.7 255.5h.01M94.2 256.4h.01M94.4 258h.01M94.8 259.4h.01M94.4 260.8h.01M94.4 262.2h.01M94.2 263.6h.01M94.5 265h.01M94.5 266.4h.01M94.7 267.5h.01M94.7 269.2h.01M94.6 270.5h.01M94.2 272.2h.01M94.7 273.7h.01M94.5 275h.01M94.8 276.2h.01M94.8 277.7h.01M94.2 278.7h.01M94.4 280.3h.01M94.6 281.8h.01M94.8 283.3h.01M94.2 284.4h.01M94.8 286.1h.01M96 246.8h.01M95.9 248.8h.01M95.6 250.1h.01M95.9 251.6h.01M96.2 252.4h.01M96 254.3h.01M95.7 255.6h.01M95.7 256.7h.01M95.8 258.1h.01M96.2 259.5h.01M95.8 261.1h.01M96 262.8h.01M96 264.1h.01M95.6 265.4h.01M95.7 266.9h.01M96 267.8h.01M96.1 269.5h.01M95.9 270.6h.01M96.2 272.3h.01M96.2 273.4h.01M96 275h.01M95.9 276.6h.01M96.1 278.2h.01M95.7 279.5h.01M95.6 280.3h.01M95.8 281.9h.01M96.1 283.5h.01M95.8 285.1h.01M96.2 286.4h.01M97.6 250.1h.01M97.6 251.4h.01M97 253.3h.01M97.1 254.4h.01M97.3 255.6h.01M97.2 257.2h.01M97 258.7h.01M97.3 259.8h.01M97.5 261.4h.01M97 263.1h.01M97.2 264h.01M97.2 265.5h.01M97 266.9h.01M97.1 268.3h.01M97.4 269.6h.01M97 271h.01M97.2 272.4h.01M97.4 274.3h.01M97.5 275.4h.01M97.5 277.1h.01M97.4 278.5h.01M97.2 279.8h.01M97.3 281.2h.01M97.5 282.2h.01M97.5 283.5h.01M97.2 285.3h.01M97.5 286.4h.01M98.6 250h.01M98.6 251.9h.01M98.4 253.4h.01M98.4 254.4h.01M98.6 255.7h.01M99 257.7h.01M99 258.5h.01M98.9 260h.01M98.6 261.7h.01M98.4 262.6h.01M99 264.3h.01M98.9 265.7h.01M98.4 267.1h.01M98.5 268.3h.01M98.4 269.9h.01M98.5 271.2h.01M99 273h.01M98.8 274h.01M98.9 275.7h.01M98.7 276.8h.01M98.5 278.3h.01M98.5 280h.01M98.7 281.3h.01M99 282.6h.01M98.5 283.8h.01M99 285h.01M98.5 286.8h.01M100.3 251.4h.01M100.2 252.6h.01M99.8 254.2h.01M99.8 255.7h.01M99.8 256.5h.01M100.4 258h.01M100.2 259.4h.01M100.4 260.7h.01M100.2 262.7h.01M100 263.5h.01M99.8 265h.01M100.3 266.7h.01M100.4 268.2h.01M100.2 269.3h.01M99.9 271.2h.01M100.4 272.2h.01M100.3 273.8h.01M99.9 274.9h.01M100.3 276.8h.01M100.4 277.8h.01M99.8 279.1h.01M99.8 281h.01M100 282.3h.01M99.9 283.8h.01M100.1 285.1h.01M100.2 286.5h.01M101.2 247.3h.01M101.8 249.1h.01M101.6 250.2h.01M101.2 251.9h.01M101.6 253h.01M101.7 254.2h.01M101.6 255.9h.01M101.7 256.9h.01M101.7 258.8h.01M101.6 259.7h.01M101.8 261.1h.01M101.3 263h.01M101.6 264h.01M101.7 265.7h.01M101.2 266.8h.01M101.7 268.6h.01M101.2 269.8h.01M101.6 271h.01M101.2 272.5h.01M101.8 274.1h.01M101.3 275.6h.01M101.6 276.6h.01M101.3 277.9h.01M101.4 279.5h.01M101.3 281.2h.01M101.7 282.4h.01M101.8 283.9h.01M101.8 285.4h.01M101.6 286.7h.01M103.1 251.1h.01M102.8 252.2h.01M102.7 254h.01M103.2 255h.01M102.8 256.2h.01M103.2 258h.01M103.2 259.4h.01M102.9 260.8h.01M103.2 262.3h.01M102.8 263.5h.01M103.2 264.9h.01M103.1 266.3h.01M103.1 267.4h.01M102.6 268.8h.01M102.9 270.4h.01M103.2 272.2h.01M102.6 273.5h.01M102.9 274.9h.01M102.8 276.3h.01M102.6 277.5h.01M102.8 278.7h.01M102.8 280.2h.01M102.9 281.7h.01M103.1 283.3h.01M103.2 284.6h.01M102.7 285.9h.01M104.1 249.1h.01M104.1 250.6h.01M104 252h.01M104.2 253h.01M104.1 255.1h.01M104.4 255.9h.01M104.4 257.7h.01M104 258.9h.01M104.1 260.4h.01M104.5 261.6h.01M104 262.9h.01M104.4 264.3h.01M104.3 266.2h.01M104.5 267.5h.01M104 268.7h.01M104.1 270.2h.01M104.1 271.3h.01M104.6 273.3h.01M104 274.6h.01M104 275.7h.01M104.6 277.5h.01M104.3 278.7h.01M104.2 280.2h.01M104.2 281.2h.01M104.1 282.9h.01M104.3 284.5h.01M104.1 285.8h.01M104.6 287.2h.01M105.5 247.3h.01M105.6 249.2h.01M105.5 250.3h.01M105.4 251.9h.01M105.4 253.4h.01M105.8 254.4h.01M105.8 255.9h.01M105.7 257.4h.01M105.5 258.7h.01M105.9 260.4h.01M105.9 261.6h.01M106 262.7h.01M106 264.1h.01M106 266h.01M105.6 267.4h.01M106 268.3h.01M105.8 269.6h.01M105.8 271.1h.01M105.8 272.4h.01M105.6 274.4h.01M105.6 275.9h.01M105.7 276.8h.01M106 278.1h.01M105.8 280.1h.01M106 281.2h.01M105.5 282.6h.01M105.6 283.8h.01M105.6 285.2h.01M105.4 287h.01M107.2 247h.01M107.2 248.5h.01M107.1 250.1h.01M107.2 251.5h.01M107.2 252.9h.01M107.4 254.2h.01M107 255.5h.01M106.8 257h.01M107.2 258.5h.01M106.8 259.4h.01M107.2 261.2h.01M106.8 262.1h.01M107 263.8h.01M106.8 265h.01M106.9 266.3h.01M106.9 267.7h.01M107 269.6h.01M107.2 270.9h.01M107.1 272h.01M106.8 273.4h.01M107.4 275.3h.01M107.1 276.5h.01M107.3 278.1h.01M106.9 279.5h.01M107.2 280.5h.01M107 281.8h.01M107.1 283.8h.01M107.3 284.6h.01M106.8 286.1h.01M108.2 248h.01M108.4 249.3h.01M108.4 251h.01M108.6 251.8h.01M108.7 253.3h.01M108.5 254.7h.01M108.5 256.1h.01M108.4 257.4h.01M108.8 258.8h.01M108.3 260.4h.01M108.2 261.6h.01M108.4 263.3h.01M108.5 264.5h.01M108.6 266.2h.01M108.3 267.2h.01M108.6 268.8h.01M108.7 269.9h.01M108.5 271.5h.01M108.3 273.3h.01M108.3 274.6h.01M108.7 276.1h.01M108.2 277h.01M108.2 278.5h.01M108.8 280.1h.01M108.3 281.1h.01M108.7 282.9h.01M108.2 284.3h.01M108.3 285.5h.01M110.2 247.5h.01M110 248.7h.01M109.8 250.4h.01M110.1 252h.01M109.7 252.9h.01M109.8 254.4h.01M110.1 255.8h.01M109.8 257.3h.01M109.9 258.6h.01M109.6 260.3h.01M109.6 261.8h.01M109.7 262.7h.01M109.9 264.6h.01M109.8 265.7h.01M109.8 266.8h.01M109.8 268.8h.01M110.2 269.7h.01M110.2 271h.01M110.1 272.4h.01M109.8 274h.01M109.9 275.8h.01M109.8 276.6h.01M109.6 278.5h.01M109.6 279.4h.01M109.7 281.4h.01M109.9 282.3h.01M110 283.8h.01M109.9 285.7h.01M110 286.7h.01M111.3 252h.01M111.5 253.7h.01M111.5 254.7h.01M111.2 255.8h.01M111.1 257.8h.01M111.3 259.2h.01M111.4 260.4h.01M111.5 261.8h.01M111.4 263.2h.01M111.2 264.8h.01M111 266.3h.01M111.6 267.6h.01M111.3 268.8h.01M111.2 270.2h.01M111.1 271.8h.01M111.6 273h.01M111.5 274.2h.01M111.6 276.1h.01M111.4 277.5h.01M111.5 278.7h.01M111.3 279.7h.01M111 281.6h.01M111.1 282.9h.01M111.1 284.4h.01M111.6 285.7h.01M111 287.2h.01M109 246.3h.01M114 246.3h.01M104.8 249.4h.01M121.6 251.9h.01M118 255h.01M124 257h.01M116 260h.01" stroke="#b0a9a9" stroke-width="3.1" stroke-linecap="round" fill="none"/>
<path d="M127.6 271.1h.01M119.8 259h.01M121.7 266h.01M118.7 254.9h.01M121.9 273.2h.01M120.1 268.2h.01M123.8 257h.01M116.9 272.4h.01M120.8 273.6h.01M121.6 254.4h.01M124.1 265h.01M131.6 263.9h.01M121.1 275.7h.01M136.7 274.8h.01M135.4 272.1h.01M132.7 275.9h.01M129 268.6h.01M126.4 289.6h.01M125.1 265.9h.01M121.4 267.7h.01M127.4 257.8h.01M108.9 270.3h.01M126.4 278.4h.01M141.7 271.3h.01M119.5 257.4h.01M117.1 268.4h.01M124.9 273.8h.01M121.7 268.9h.01M117.6 263.8h.01M140.5 269.5h.01M128.7 259.2h.01M139.3 261.1h.01M133 269h.01M115.4 277.2h.01M125.2 269.6h.01M129.5 267.8h.01M121.2 272.2h.01M121 268.6h.01M118.3 254.6h.01M118.3 263.5h.01M125.1 278.7h.01M108.1 269.2h.01M125.8 267h.01M117 287.4h.01M123.4 260.2h.01M141.8 273.5h.01M121.3 278.7h.01M126.6 273.8h.01M127.3 258.7h.01M134.7 269.4h.01M114.9 261.1h.01M134.6 264.7h.01M125.5 273.9h.01M126.3 254.3h.01M131.4 276.4h.01M133.7 282.6h.01M128.6 275h.01M140.9 265.4h.01M142.4 283.6h.01M132.8 284.6h.01" stroke="#aaa4a4" stroke-width="2.8" stroke-linecap="round" fill="none"/>
<path d="M72.6 264.1h.01M73.7 263.9h.01M72.7 265.3h.01M73.8 265.7h.01M72.5 266.8h.01M74 266.5h.01M72.4 268.4h.01M74 268.5h.01M72.4 269.6h.01M73.7 269.4h.01M72.2 270.8h.01M73.7 271h.01M72.4 272.6h.01M74.1 272.4h.01M72.6 273.8h.01M73.8 273.8h.01M72.6 275.5h.01M74.1 274.9h.01M72.6 276.3h.01M74 276.8h.01M72.6 277.7h.01M73.8 277.8h.01M72.6 279.5h.01M74.1 279.3h.01M72.6 280.6h.01M74.2 281.1h.01M84 262h.01M84.5 263.2h.01M84 264.5h.01M84.4 265.9h.01M84.2 267.8h.01M84 269.1h.01M84.3 270.3h.01M84.3 271.7h.01M84.6 273.3h.01M84.2 274.3h.01M84.3 276.3h.01M84.6 277.1h.01M84.2 278.8h.01M84.2 279.9h.01M84.1 281.6h.01M92.2 263.2h.01M93.5 263.1h.01M91.7 264.2h.01M93.3 264.2h.01M91.9 265.7h.01M93.3 265.5h.01M92.3 267.5h.01M93.5 267h.01M92 268.9h.01M93.5 268.7h.01M92.1 270.3h.01M93.5 269.7h.01M92 271.7h.01M93.1 271.1h.01M91.7 272.5h.01M93.2 273h.01M92.1 274.4h.01M93.4 274.1h.01M92.2 275.4h.01M93.3 275.5h.01M92.1 277.2h.01M93.4 277.1h.01M91.8 278.5h.01M93.6 278.4h.01M92.2 279.8h.01M93.4 279.9h.01M91.7 281h.01M93.2 281.2h.01M106 280.2h.01M99.1 272.7h.01M98.2 279.1h.01M102.3 271.5h.01M99.4 285h.01M103.2 285.8h.01M100.8 270.3h.01M106.7 284.2h.01M98.5 283.2h.01M104.8 284.1h.01M110.2 274.5h.01M110.1 269.6h.01M102.7 274.9h.01M99.7 275.7h.01M107.3 268.2h.01M103.2 276.5h.01M98.9 278.8h.01M99.8 277.4h.01M104.6 281h.01M110 284.5h.01M103.5 271.3h.01M99.6 281.7h.01M107.4 281.9h.01M108.5 277.3h.01M109.5 279.1h.01M105.5 282.7h.01M105.8 281.4h.01M109.9 273.9h.01M107.3 272h.01M103.3 283.5h.01M110.6 285h.01M107.4 283h.01M109.3 278.2h.01M99.7 266.4h.01M107.4 281.2h.01M107 277.6h.01M105.9 280.4h.01M104 279.2h.01M99.4 276.7h.01M105.4 277.4h.01M99.9 268.5h.01M105.8 268.3h.01M107.9 269.6h.01M107.6 273.1h.01M109.5 270.5h.01M98.4 279.5h.01M107.6 273h.01M103.1 279.2h.01M100.4 273.8h.01M104.5 272.1h.01M98.2 284.2h.01M97.8 285.7h.01M108.7 274.9h.01M108.9 267.3h.01M104.4 273.1h.01M114.4 270.5h.01M124.1 262.6h.01M133.8 274.2h.01M117.5 273.3h.01M119.7 267.8h.01M126.5 269.6h.01M111.2 268.6h.01M121.6 265.9h.01M132.6 265.8h.01M136.5 277.7h.01M115 273.2h.01M132 271.2h.01M113 273.1h.01M138.4 263.4h.01M127 272.4h.01M121.6 270.1h.01M120 278.6h.01M127.3 266.4h.01M135 264.6h.01M127.8 273.5h.01M132.1 274.6h.01M131 272.3h.01M130.3 274.5h.01M139.8 268.3h.01M132.1 275.2h.01M124 269h.01M126.2 263.6h.01M111.6 276.7h.01M110.1 281.1h.01M120.4 273.9h.01M123.2 275h.01M120.4 270.2h.01M121.6 278.7h.01M131.7 280.1h.01M125.5 271.2h.01M129.3 270h.01M129.1 280.2h.01M123.4 278.8h.01M125.1 262h.01M118.8 270h.01M126.8 267.3h.01M119.1 266.7h.01M122.3 272.9h.01M130.4 277.2h.01M123.9 273.9h.01M123.5 273.1h.01M135 257.5h.01M121.2 274.3h.01M131.7 265.9h.01M125.4 277.6h.01M119.1 261h.01M119.7 265.3h.01M127.8 267.4h.01M136.9 273.3h.01M116.2 269.4h.01M113.9 274.8h.01M134.5 271.2h.01M130 266.8h.01M125.1 286.3h.01M111.4 279.9h.01M132 261.2h.01M111.1 266.6h.01M130.4 269.9h.01M121.3 276.7h.01M123.6 273.8h.01M120 279.2h.01M116.4 282.5h.01M119.9 267.7h.01M127.8 275.2h.01M111.8 267.5h.01M128.9 267.3h.01M125.4 270.2h.01M138.1 271.9h.01M113.2 265.8h.01M115.3 273.2h.01M122.5 278.2h.01M123.9 273.2h.01M125.1 271.6h.01M124.9 277.1h.01M128.8 269.1h.01M124.8 257.5h.01M118.7 275.1h.01M118 265.7h.01M136.5 280.7h.01M120.4 280.3h.01M132.9 265.6h.01M120.4 265.8h.01M123.1 264.5h.01M122.4 278.8h.01M124.2 270.7h.01" stroke="#878282" stroke-width="3.1" stroke-linecap="round" fill="none"/>
<path d="M98 253h.01M104 256h.01M109 251h.01M101 260h.01M106 262h.01M73.5 251h.01M84 256h.01M96.5 270h.01M110.5 275h.01" stroke="#ffffff" stroke-width="1.4" stroke-linecap="round" fill="none"/>
<path d="M167 248.3h.01M173.7 251h.01M183.2 247h.01M185.9 259h.01M168.3 264.5h.01M175 270h.01M162.8 270h.01M171 278h.01M176.4 276.7h.01M184.5 279.4h.01M191.3 278.9h.01M198 279.4h.01M167 283.5h.01M171 283.5h.01M150.6 280.8h.01M158.8 282h.01M161.7 265h.01M168.3 265h.01M158.3 275h.01M161.7 275h.01M148.3 280.3h.01M151.7 280.3h.01M156.7 283.3h.01M171.7 274.2h.01M171.7 283.3h.01M139 279h.01M145 275.8h.01M130 256.7h.01M140 262h.01M146 268h.01M153 262h.01M135 270h.01M150 270h.01M143 258h.01M180 262h.01M192 268h.01M200 281h.01M188 256h.01M137 284h.01M142 285h.01M133 282h.01" stroke="#958f8f" stroke-width="2.9" stroke-linecap="round" fill="none"/>
<path d="M165 247.5h.01M168.3 248.3h.01M168.3 251.7h.01M173.3 250h.01M160 256h.01M177 254h.01M156 259h.01M163 260h.01M182 250h.01M171 257h.01M145 262h.01M150 258h.01" stroke="#9b9494" stroke-width="2.8" stroke-linecap="round" fill="none"/>
<path d="M165 247.5h.01M168.3 248.3h.01M168.3 251.7h.01M173.3 250h.01M160 256h.01M177 254h.01M156 259h.01M163 260h.01M182 250h.01M171 257h.01M145 262h.01M150 258h.01" stroke="#fff" stroke-width="1.8" stroke-linecap="round" fill="none"/>
<path d="M40.6 250.2h.01M40.6 252h.01M40.6 253.8h.01M40.6 255.6h.01M40.6 257.4h.01M40.6 259.2h.01M40.6 261.2h.01M40.6 263.3h.01M40.6 267.4h.01" stroke="#ee1d23" stroke-width="3.1" stroke-linecap="round" fill="none"/>
<path d="M40.6 274.5h.01M40.6 316.3h.01" stroke="#f7941d" stroke-width="3.1" stroke-linecap="round" fill="none"/>
<path d="M112.5 250.6h.01M112.5 252.3h.01M112.5 254h.01M112.5 257.8h.01M112.5 259.5h.01M112.5 261.2h.01M112.5 263h.01" stroke="#ee1d23" stroke-width="2.9" stroke-linecap="round" fill="none"/>
<path d="M124.5 266.6h.01M131.4 262.9h.01M131.4 273.8h.01" stroke="#ee1d23" stroke-width="3.1" stroke-linecap="round" fill="none"/>
<path d="M112.5 266.9h.01M112.5 273.8h.01M124.5 273.8h.01M112.5 316.3h.01M124.5 316.3h.01M131.3 316.3h.01" stroke="#f7941d" stroke-width="3.1" stroke-linecap="round" fill="none"/>
<path d="M76,237 C76,214 100,205 130,204.5 C165,204 197,212 197,229 C197,234 194,238 191,240.5 C184,246 174,253 163,258.5 C152,263.5 142,267 130,267.8 C112,268.5 95,262 85,252 C79,246 76,242 76,237Z" stroke="#555" stroke-width="0.8" fill="none" stroke-dasharray="2.6 1.6"/>
<path d="M34,316.5 C34,312 40,310 46.7,308.3 L108.3,278.3 C118,272 126,263 133.3,258.3 C138,255 142,253 146.7,253.3 C151,253.5 155,254 158.3,255 C164,257 168,258 171.7,260 L188.3,268.3 L203.3,275.8 C210,279 218,283 221.5,286 C226,290 221,296 205,300 C190,305 165,311 145,315 C138,316.5 132,317 130,319 C128,323 125,326 120,327.5 C100,332 60,332 45,326 C38,323 34,320 34,316.5Z" stroke="#555" stroke-width="0.8" fill="none" stroke-dasharray="2.6 1.6"/>
<text x="138.2" y="237.1" font-size="6.2" font-weight="bold" stroke="#333" stroke-width="0.16" text-anchor="middle" fill="#333">Orogenic Au Deposit</text>
<text x="142.5" y="300.5" font-size="6.26" font-weight="bold" stroke="#333" stroke-width="0.16" text-anchor="middle" fill="#333">Sedimentary Pyrite</text>
<text x="47.2" y="250.6" font-size="6.1" font-weight="bold" stroke="#333" stroke-width="0.16" text-anchor="middle" fill="#333" transform="rotate(-29.5 47.2 250.6)">Ag/Au= 0.001</text>
<text x="65.6" y="313.7" font-size="6.6" font-weight="bold" text-anchor="middle" fill="#333" transform="rotate(-29.5 65.6 313.7)">Ag/Au= 10</text>
<rect x="266.9" y="197.5" width="197.5" height="136" fill="none" stroke="#cfcfcf" stroke-width="0.8"/>
<path d="M266.9 333.5v1.3M276.8 333.5v1.3M282.6 333.5v1.3M286.7 333.5v1.3M289.9 333.5v1.3M292.5 333.5v1.3M294.7 333.5v1.3M296.6 333.5v1.3M298.3 333.5v1.3M299.8 333.5v1.3M309.7 333.5v1.3M315.5 333.5v1.3M319.6 333.5v1.3M322.8 333.5v1.3M325.4 333.5v1.3M327.6 333.5v1.3M329.5 333.5v1.3M331.2 333.5v1.3M332.7 333.5v1.3M342.6 333.5v1.3M348.4 333.5v1.3M352.6 333.5v1.3M355.7 333.5v1.3M358.3 333.5v1.3M360.6 333.5v1.3M362.5 333.5v1.3M364.1 333.5v1.3M365.6 333.5v1.3M375.6 333.5v1.3M381.4 333.5v1.3M385.5 333.5v1.3M388.7 333.5v1.3M391.3 333.5v1.3M393.5 333.5v1.3M395.4 333.5v1.3M397.1 333.5v1.3M398.6 333.5v1.3M408.5 333.5v1.3M414.3 333.5v1.3M418.4 333.5v1.3M421.6 333.5v1.3M424.2 333.5v1.3M426.4 333.5v1.3M428.3 333.5v1.3M430 333.5v1.3M431.5 333.5v1.3M441.4 333.5v1.3M447.2 333.5v1.3M451.3 333.5v1.3M454.5 333.5v1.3M457.1 333.5v1.3M459.3 333.5v1.3M461.2 333.5v1.3M462.9 333.5v1.3M464.4 333.5v1.3" stroke="#c8c8c8" stroke-width="0.5"/>
<path d="M266.9 333.5h-1.3M266.9 326.7h-1.3M266.9 322.7h-1.3M266.9 319.9h-1.3M266.9 317.7h-1.3M266.9 315.9h-1.3M266.9 314.3h-1.3M266.9 313h-1.3M266.9 311.9h-1.3M266.9 310.8h-1.3M266.9 304h-1.3M266.9 300h-1.3M266.9 297.2h-1.3M266.9 295h-1.3M266.9 293.2h-1.3M266.9 291.7h-1.3M266.9 290.4h-1.3M266.9 289.2h-1.3M266.9 288.2h-1.3M266.9 281.3h-1.3M266.9 277.4h-1.3M266.9 274.5h-1.3M266.9 272.3h-1.3M266.9 270.5h-1.3M266.9 269h-1.3M266.9 267.7h-1.3M266.9 266.5h-1.3M266.9 265.5h-1.3M266.9 258.7h-1.3M266.9 254.7h-1.3M266.9 251.9h-1.3M266.9 249.7h-1.3M266.9 247.9h-1.3M266.9 246.3h-1.3M266.9 245h-1.3M266.9 243.9h-1.3M266.9 242.8h-1.3M266.9 236h-1.3M266.9 232h-1.3M266.9 229.2h-1.3M266.9 227h-1.3M266.9 225.2h-1.3M266.9 223.7h-1.3M266.9 222.4h-1.3M266.9 221.2h-1.3M266.9 220.2h-1.3M266.9 213.3h-1.3M266.9 209.4h-1.3M266.9 206.5h-1.3M266.9 204.3h-1.3M266.9 202.5h-1.3M266.9 201h-1.3M266.9 199.7h-1.3M266.9 198.5h-1.3M266.9 197.5h-1.3" stroke="#c8c8c8" stroke-width="0.5"/>
<text x="263.2" y="201.3" font-size="5.4" text-anchor="end" fill="#333">10,000</text>
<text x="263.2" y="222.5" font-size="5.4" text-anchor="end" fill="#333">1000</text>
<text x="263.2" y="245.9" font-size="5.4" text-anchor="end" fill="#333">100</text>
<text x="263.2" y="268.3" font-size="5.4" text-anchor="end" fill="#333">10</text>
<text x="263.2" y="290.9" font-size="5.4" text-anchor="end" fill="#333">1</text>
<text x="263.2" y="313.5" font-size="5.4" text-anchor="end" fill="#333">0.1</text>
<text x="263.2" y="335.9" font-size="5.4" text-anchor="end" fill="#333">0.01</text>
<text x="268.8" y="340.8" font-size="5.8" text-anchor="middle" fill="#333">0.01</text>
<text x="300" y="340.8" font-size="5.8" text-anchor="middle" fill="#333">0.1</text>
<text x="333" y="340.8" font-size="5.8" text-anchor="middle" fill="#333">1</text>
<text x="366.8" y="340.8" font-size="5.8" text-anchor="middle" fill="#333">10</text>
<text x="400.1" y="340.8" font-size="5.8" text-anchor="middle" fill="#333">100</text>
<text x="432.7" y="340.8" font-size="5.8" text-anchor="middle" fill="#333">1000</text>
<text x="466.5" y="340.8" font-size="5.8" text-anchor="middle" fill="#333">1000</text>
<text x="359" y="355" font-size="6.9" font-weight="bold" text-anchor="middle" fill="#111">Ni (ppm)</text>
<text x="251.6" y="274.3" font-size="6.7" font-weight="bold" text-anchor="middle" fill="#111" transform="rotate(-90 251.6 274.3)">Co (ppm)</text>
<text x="276.6" y="208.6" font-size="9" font-weight="bold" text-anchor="middle" fill="#222">d</text>
<line x1="266.9" y1="310" x2="427.6" y2="197.5" stroke="#555" stroke-width="0.8"/>
<line x1="266.9" y1="333" x2="460.5" y2="197.5" stroke="#555" stroke-width="0.8"/>
<line x1="299.8" y1="333.5" x2="464.4" y2="218.2" stroke="#555" stroke-width="0.8"/>
<text x="398.1" y="213.5" font-size="6.9" font-weight="bold" text-anchor="middle" fill="#333" transform="rotate(-35.5 398.1 213.5)">Co/Ni: 10</text>
<text x="419.8" y="222.4" font-size="6.9" font-weight="bold" text-anchor="middle" fill="#333" transform="rotate(-35.5 419.8 222.4)">Co/Ni: 1</text>
<text x="444.5" y="228" font-size="6.9" font-weight="bold" text-anchor="middle" fill="#333" transform="rotate(-35.5 444.5 228)">Co/Ni: 0.1</text>
<path d="M339.2 296.4h.01M324 295.4h.01M353.5 295.8h.01M341.9 296h.01M348.2 296.2h.01M344.6 295.2h.01M350.7 295.3h.01M351.6 295.2h.01M347.8 296h.01M314.2 296.1h.01M339.1 295.3h.01M352.5 295.9h.01M333.8 296.3h.01M322.1 295.4h.01M353.2 295.4h.01M349.8 295.5h.01M349.6 295.7h.01M340.8 295.9h.01M330.8 295.8h.01M342.2 295.4h.01M354.2 296.2h.01M322.4 295.5h.01M330.8 301.1h.01M336.3 300.6h.01M347.6 300.4h.01M344.9 301.1h.01M317.6 300.9h.01M339.7 301.4h.01M326.4 300.8h.01M355.1 300.4h.01M353.4 300.6h.01M328.5 301.4h.01M330.6 300.5h.01M322.3 301h.01M341.6 300.5h.01M335.3 300.5h.01M350.7 300.6h.01M340.7 301.3h.01M323.7 301.3h.01M334.8 301h.01M325.2 301h.01M345.6 300.9h.01M351.8 300.8h.01M313.7 301.3h.01M338.6 305.1h.01M339.9 304.4h.01M325.9 304.5h.01M342.2 305.4h.01M342.7 305.4h.01M328 304.4h.01M331.4 304.6h.01M326.7 304.7h.01M321.1 305.2h.01M339.9 305.4h.01M357.3 304.7h.01M355.2 305.3h.01M338.3 305.6h.01M336.1 304.4h.01M318.6 304.8h.01M344.3 305.1h.01M343.7 304.4h.01M324.2 305.1h.01M342.4 304.9h.01M322.8 304.8h.01M347.2 305.3h.01M324.1 305.5h.01M315 308h.01M332.7 308.7h.01M338.4 308.5h.01M355.8 308.1h.01M321.2 308.2h.01M338.4 307.9h.01M314.7 308.6h.01M357.5 308.8h.01M329.9 308.2h.01M350.3 308.9h.01M329 308.8h.01M344.4 307.9h.01M333.3 307.7h.01M331.3 308.3h.01M348.9 308.1h.01M342.2 308.5h.01M336.6 308.4h.01M333.7 308.4h.01M333.7 308.8h.01M318.1 308.7h.01M346.5 307.7h.01M345.4 308.1h.01M335.8 313.3h.01M346.1 313.3h.01M341.6 313h.01M316.2 313.5h.01M357.5 312.8h.01M354 313.2h.01M342.4 313h.01M344.1 313.2h.01M348.8 313h.01M328 313.5h.01M317.7 313.9h.01M340.3 313.9h.01M321 313.6h.01M322.1 312.8h.01M332.9 313.3h.01M338.1 313.3h.01M321.8 313.5h.01M325 313h.01M348.2 313.5h.01M345.7 313.8h.01M351.4 313h.01M356.9 313.3h.01M298.3 305h.01M298.3 313.3h.01M305 300.8h.01M305 308.3h.01M325.8 286.7h.01M334 290h.01M343.3 290.8h.01M345 285h.01M330 292h.01M287 300h.01M289 307h.01M275 303h.01M276 306.5h.01M321 290h.01M327 287h.01M338 285h.01M345 283h.01M340 290h.01M305 328.3h.01M322.5 328.3h.01M324.5 328.3h.01M326.5 328.3h.01M328.3 328.3h.01M335 328.3h.01M336.8 328.3h.01M338.6 328.3h.01M340.4 328.3h.01M342.2 328.3h.01M344 328.3h.01M345.8 328.3h.01M347.6 328.3h.01M349.4 328.3h.01M351.2 328.3h.01M353 328.3h.01M354.8 328.3h.01M356.6 328.3h.01" stroke="#8c8c8c" stroke-width="2.4" stroke-linecap="round" fill="none"/>
<path d="M339.2 296.4h.01M324 295.4h.01M353.5 295.8h.01M341.9 296h.01M348.2 296.2h.01M344.6 295.2h.01M350.7 295.3h.01M351.6 295.2h.01M347.8 296h.01M314.2 296.1h.01M339.1 295.3h.01M352.5 295.9h.01M333.8 296.3h.01M322.1 295.4h.01M353.2 295.4h.01M349.8 295.5h.01M349.6 295.7h.01M340.8 295.9h.01M330.8 295.8h.01M342.2 295.4h.01M354.2 296.2h.01M322.4 295.5h.01M330.8 301.1h.01M336.3 300.6h.01M347.6 300.4h.01M344.9 301.1h.01M317.6 300.9h.01M339.7 301.4h.01M326.4 300.8h.01M355.1 300.4h.01M353.4 300.6h.01M328.5 301.4h.01M330.6 300.5h.01M322.3 301h.01M341.6 300.5h.01M335.3 300.5h.01M350.7 300.6h.01M340.7 301.3h.01M323.7 301.3h.01M334.8 301h.01M325.2 301h.01M345.6 300.9h.01M351.8 300.8h.01M313.7 301.3h.01M338.6 305.1h.01M339.9 304.4h.01M325.9 304.5h.01M342.2 305.4h.01M342.7 305.4h.01M328 304.4h.01M331.4 304.6h.01M326.7 304.7h.01M321.1 305.2h.01M339.9 305.4h.01M357.3 304.7h.01M355.2 305.3h.01M338.3 305.6h.01M336.1 304.4h.01M318.6 304.8h.01M344.3 305.1h.01M343.7 304.4h.01M324.2 305.1h.01M342.4 304.9h.01M322.8 304.8h.01M347.2 305.3h.01M324.1 305.5h.01M315 308h.01M332.7 308.7h.01M338.4 308.5h.01M355.8 308.1h.01M321.2 308.2h.01M338.4 307.9h.01M314.7 308.6h.01M357.5 308.8h.01M329.9 308.2h.01M350.3 308.9h.01M329 308.8h.01M344.4 307.9h.01M333.3 307.7h.01M331.3 308.3h.01M348.9 308.1h.01M342.2 308.5h.01M336.6 308.4h.01M333.7 308.4h.01M333.7 308.8h.01M318.1 308.7h.01M346.5 307.7h.01M345.4 308.1h.01M335.8 313.3h.01M346.1 313.3h.01M341.6 313h.01M316.2 313.5h.01M357.5 312.8h.01M354 313.2h.01M342.4 313h.01M344.1 313.2h.01M348.8 313h.01M328 313.5h.01M317.7 313.9h.01M340.3 313.9h.01M321 313.6h.01M322.1 312.8h.01M332.9 313.3h.01M338.1 313.3h.01M321.8 313.5h.01M325 313h.01M348.2 313.5h.01M345.7 313.8h.01M351.4 313h.01M356.9 313.3h.01M298.3 305h.01M298.3 313.3h.01M305 300.8h.01M305 308.3h.01M325.8 286.7h.01M334 290h.01M343.3 290.8h.01M345 285h.01M330 292h.01M287 300h.01M289 307h.01M275 303h.01M276 306.5h.01M321 290h.01M327 287h.01M338 285h.01M345 283h.01M340 290h.01M305 328.3h.01M322.5 328.3h.01M324.5 328.3h.01M326.5 328.3h.01M328.3 328.3h.01M335 328.3h.01M336.8 328.3h.01M338.6 328.3h.01M340.4 328.3h.01M342.2 328.3h.01M344 328.3h.01M345.8 328.3h.01M347.6 328.3h.01M349.4 328.3h.01M351.2 328.3h.01M353 328.3h.01M354.8 328.3h.01M356.6 328.3h.01" stroke="#fff" stroke-width="1.4" stroke-linecap="round" fill="none"/>
<path d="M392.5 253.3h.01M379.7 266.4h.01M411 241h.01M359.1 286.2h.01M405.1 256.7h.01M409.6 250.1h.01M397.9 261.6h.01M362.6 285h.01M381.6 262.3h.01M383.6 257.6h.01M390.3 260.4h.01M370.4 280.4h.01M389.6 262.8h.01M381.1 263.8h.01M388.3 272.4h.01M411.6 251.6h.01M411.7 252.8h.01M398.3 258.3h.01M395.6 256.3h.01M353.2 288.1h.01M371 286.1h.01M414.8 254h.01M404.3 252.3h.01M372.6 265.5h.01M370.5 272.3h.01M363.9 278.4h.01M379 266.7h.01M375.2 276.2h.01M391.4 269.3h.01M357.7 274.7h.01M381.4 270.9h.01M399.7 242.4h.01M349.6 293.8h.01M362.1 273.6h.01M400 251.4h.01M396.1 250.8h.01M353.8 288.4h.01M383.6 264.8h.01M378.6 265.8h.01M388.5 257.4h.01M396 258.2h.01M375.4 279h.01M407.4 251.8h.01M362.8 274.5h.01M357.9 283.8h.01M394.7 267.3h.01M394.8 253.3h.01M357.3 282.5h.01M388.7 256.3h.01M380.8 273.5h.01M395.6 261h.01M364.6 277.7h.01M384.9 267.6h.01M360.6 288.7h.01M371.6 268.2h.01M414 249h.01M358.9 285.2h.01M368.7 274.7h.01M413.9 233.6h.01M383.3 266.6h.01M358 287.7h.01M373.2 284.9h.01M413.4 242.1h.01M399.9 247.9h.01M348.9 293.6h.01M368.7 278.5h.01M379.6 269h.01M404.5 260.9h.01M370.4 276.9h.01M372.1 273.5h.01M354.2 288.8h.01M356.3 288h.01M358.8 277.6h.01M364.8 279h.01M378.3 275h.01M365 282h.01M406 247.9h.01M355.3 283.8h.01M359.1 289.9h.01M404.3 254.4h.01M379.9 278.5h.01M400.2 253.5h.01M379.7 268.1h.01M383.6 269.5h.01M364.1 284h.01M377 276.4h.01M346 297.9h.01M343.4 298.2h.01M348.9 287h.01M388.7 257.8h.01M386.4 262.3h.01M384.4 276.5h.01M385.4 261h.01M383.5 266h.01M367.6 277.7h.01M402 251.5h.01M400.3 257.4h.01M401 248.5h.01M414.3 243.9h.01M411.1 246.2h.01M397.5 258.7h.01M402.6 255.1h.01M402.3 252.2h.01M373 279.2h.01M363.8 282.2h.01M412.1 249.5h.01M412.7 243.5h.01M382.7 261.7h.01M414.8 242.2h.01M385.7 275.9h.01M371.9 278h.01M350.3 286.1h.01M396.9 252.3h.01M388.3 263.3h.01M385.6 262.3h.01M401 255.1h.01M345.6 295.1h.01M385.3 273.2h.01M365.1 271.3h.01M412.4 246.4h.01M400.3 262.2h.01M391.6 258.7h.01M354.1 282h.01M350.8 293.2h.01M348.2 296h.01M358.8 289.6h.01M345.4 291.6h.01M403.9 251.8h.01M383.9 270.2h.01M396.8 259.7h.01M367.1 273.1h.01M402.1 255.9h.01M392.8 253h.01M368.6 280h.01M349.2 290.3h.01M402.7 260.7h.01M386.2 269.7h.01M381.3 261.6h.01M413.5 251.2h.01M353.6 294.1h.01M411.3 255.5h.01M414.5 253h.01M387.9 260.6h.01M380.4 271.5h.01M399.2 261h.01M394.4 267.2h.01M370.7 281.7h.01M407.5 249.9h.01M363.1 272.8h.01M347.8 287.5h.01" stroke="#8c8c8c" stroke-width="2.6" stroke-linecap="round" fill="none"/>
<path d="M392.5 253.3h.01M379.7 266.4h.01M411 241h.01M359.1 286.2h.01M405.1 256.7h.01M409.6 250.1h.01M397.9 261.6h.01M362.6 285h.01M381.6 262.3h.01M383.6 257.6h.01M390.3 260.4h.01M370.4 280.4h.01M389.6 262.8h.01M381.1 263.8h.01M388.3 272.4h.01M411.6 251.6h.01M411.7 252.8h.01M398.3 258.3h.01M395.6 256.3h.01M353.2 288.1h.01M371 286.1h.01M414.8 254h.01M404.3 252.3h.01M372.6 265.5h.01M370.5 272.3h.01M363.9 278.4h.01M379 266.7h.01M375.2 276.2h.01M391.4 269.3h.01M357.7 274.7h.01M381.4 270.9h.01M399.7 242.4h.01M349.6 293.8h.01M362.1 273.6h.01M400 251.4h.01M396.1 250.8h.01M353.8 288.4h.01M383.6 264.8h.01M378.6 265.8h.01M388.5 257.4h.01M396 258.2h.01M375.4 279h.01M407.4 251.8h.01M362.8 274.5h.01M357.9 283.8h.01M394.7 267.3h.01M394.8 253.3h.01M357.3 282.5h.01M388.7 256.3h.01M380.8 273.5h.01M395.6 261h.01M364.6 277.7h.01M384.9 267.6h.01M360.6 288.7h.01M371.6 268.2h.01M414 249h.01M358.9 285.2h.01M368.7 274.7h.01M413.9 233.6h.01M383.3 266.6h.01M358 287.7h.01M373.2 284.9h.01M413.4 242.1h.01M399.9 247.9h.01M348.9 293.6h.01M368.7 278.5h.01M379.6 269h.01M404.5 260.9h.01M370.4 276.9h.01M372.1 273.5h.01M354.2 288.8h.01M356.3 288h.01M358.8 277.6h.01M364.8 279h.01M378.3 275h.01M365 282h.01M406 247.9h.01M355.3 283.8h.01M359.1 289.9h.01M404.3 254.4h.01M379.9 278.5h.01M400.2 253.5h.01M379.7 268.1h.01M383.6 269.5h.01M364.1 284h.01M377 276.4h.01M346 297.9h.01M343.4 298.2h.01M348.9 287h.01M388.7 257.8h.01M386.4 262.3h.01M384.4 276.5h.01M385.4 261h.01M383.5 266h.01M367.6 277.7h.01M402 251.5h.01M400.3 257.4h.01M401 248.5h.01M414.3 243.9h.01M411.1 246.2h.01M397.5 258.7h.01M402.6 255.1h.01M402.3 252.2h.01M373 279.2h.01M363.8 282.2h.01M412.1 249.5h.01M412.7 243.5h.01M382.7 261.7h.01M414.8 242.2h.01M385.7 275.9h.01M371.9 278h.01M350.3 286.1h.01M396.9 252.3h.01M388.3 263.3h.01M385.6 262.3h.01M401 255.1h.01M345.6 295.1h.01M385.3 273.2h.01M365.1 271.3h.01M412.4 246.4h.01M400.3 262.2h.01M391.6 258.7h.01M354.1 282h.01M350.8 293.2h.01M348.2 296h.01M358.8 289.6h.01M345.4 291.6h.01M403.9 251.8h.01M383.9 270.2h.01M396.8 259.7h.01M367.1 273.1h.01M402.1 255.9h.01M392.8 253h.01M368.6 280h.01M349.2 290.3h.01M402.7 260.7h.01M386.2 269.7h.01M381.3 261.6h.01M413.5 251.2h.01M353.6 294.1h.01M411.3 255.5h.01M414.5 253h.01M387.9 260.6h.01M380.4 271.5h.01M399.2 261h.01M394.4 267.2h.01M370.7 281.7h.01M407.5 249.9h.01M363.1 272.8h.01M347.8 287.5h.01" stroke="#fff" stroke-width="1.6" stroke-linecap="round" fill="none"/>
<path d="M382.6 274h.01M345.6 296.3h.01M391.9 258.8h.01M399.1 253.1h.01M346.1 294.2h.01M386.2 272.6h.01M413.9 250.6h.01M379.9 266h.01M383.3 262.8h.01M405.1 254.1h.01M362.5 288.3h.01M383.6 260.2h.01M384.4 262.1h.01M410.1 250.3h.01M374.1 276.9h.01M386.3 272.2h.01M409.7 248.1h.01M415.8 250.2h.01M406.9 249.2h.01M399.9 259h.01M365.5 282.9h.01M367.1 276.3h.01M379 275.4h.01M401.1 242.8h.01M412.9 246.5h.01M377.5 274h.01M369.9 276.2h.01M383 264.8h.01M362.5 271.9h.01M382.7 272h.01M374.1 270.9h.01M410.7 250.7h.01M408.4 246.7h.01M390.5 269.3h.01M381.9 274.2h.01M390.4 265.9h.01M347 288.4h.01M411.9 257.9h.01M393.5 259.6h.01M346.5 296.4h.01M374.4 274h.01M377.4 271.7h.01M373.7 274.7h.01M401 255.6h.01M389.2 255.4h.01M371.5 279.8h.01M376.8 273.2h.01M384 271.5h.01M359.3 273.2h.01M402.9 253.6h.01M355.6 292.3h.01M387.7 264.4h.01M398.1 263.9h.01M413.7 247.3h.01M410.6 243.1h.01M383.8 273.2h.01M414.2 247.4h.01M373.9 277.6h.01M358.2 286.1h.01M401.5 244.5h.01M397.5 251.7h.01M415.3 242.9h.01M344.1 296.6h.01M374.9 274.5h.01M386.3 267.8h.01M364 276.3h.01M376.7 259.9h.01M410.5 246.7h.01M414 246h.01M365.6 276.7h.01M364.7 280.1h.01M387.9 261.9h.01M408 243.2h.01M413.9 238h.01M412.9 242.3h.01M359.1 288.6h.01M381.2 266.4h.01M373 267.1h.01M389 263.3h.01M368.3 270.2h.01M371.3 272.7h.01M408.9 247.4h.01M361 280.6h.01M394.7 262.2h.01M392.1 258.7h.01M392 255.1h.01M349.1 291.8h.01M405.7 258.2h.01M367.6 271.6h.01M404.7 244.7h.01M393.7 264.4h.01M358 282h.01M380.2 272.3h.01M393.2 262.5h.01M399.5 257.8h.01M414.2 246.1h.01M388.9 261.8h.01M392.7 266.7h.01M365.1 288.7h.01M359.5 277.4h.01M397.6 263h.01M374.3 266.4h.01M393.7 259.7h.01M367 288.8h.01M410.6 247.8h.01M377.3 267.5h.01M387.8 265.2h.01M390.3 254.4h.01M395.5 257.4h.01M385.3 269.1h.01M374.3 264.7h.01M371.4 282.5h.01M366.5 282.4h.01M402.8 259.7h.01M379.1 263.6h.01M410 244h.01M399.6 260.3h.01M389 267.2h.01M415.9 251.8h.01M402 255.7h.01M367.7 287.7h.01M384.1 259.5h.01M384.6 256h.01M371.3 267.1h.01M413.7 246h.01M394.9 259.6h.01M358.4 292.3h.01M365.9 281.9h.01M345.6 292.2h.01M364.3 286.8h.01M410.5 254.9h.01M375.1 266.7h.01M375.6 266.6h.01M398.2 257.4h.01M378.4 256.5h.01M391 271.2h.01M369.4 279.7h.01M404.9 256.7h.01M352.6 293.6h.01M386.9 263.5h.01M369.3 277.2h.01M376.3 267.2h.01M402.8 257.1h.01M387.1 256.8h.01M363.6 281.7h.01M399.3 262.8h.01M362.3 289.2h.01M394.4 256.8h.01M399.2 252h.01M365.3 283.1h.01" stroke="#8a8a8a" stroke-width="2.5" stroke-linecap="round" fill="none"/>
<path d="M365.2 273.1h.01M359.3 281.5h.01M367.6 280h.01M397 266.5h.01M360.9 277.8h.01M396.5 252.7h.01M390.9 257h.01M382.1 274.6h.01M363.6 278.8h.01M398.4 255.9h.01M370.2 271.7h.01M409 252.5h.01M396.9 256.7h.01M381.8 268.9h.01M393.9 257.3h.01M393.4 258.1h.01M378.5 276.7h.01M383 265.6h.01M387.2 268.2h.01M368.4 276.3h.01M381.4 264.2h.01M360.5 285.3h.01M388.3 260.2h.01M379.1 271.1h.01M362.7 287h.01M379.6 269.2h.01M378.6 268.1h.01M368.3 283.4h.01M372 275.2h.01M386.7 262.2h.01M400 256.1h.01M368.9 281.2h.01M409.2 252.5h.01M382.4 270.2h.01M394.8 262.2h.01M402.7 254h.01M360.6 278.4h.01M381.7 269h.01M372.9 267.2h.01M398.2 259.5h.01M403.6 249h.01M409.4 244h.01M374.1 281.2h.01M383.4 268.7h.01M385.3 267.3h.01M374.2 272.6h.01M396.9 258.7h.01M392.3 258.4h.01M394.7 257.5h.01M365.4 280.4h.01M367 279.3h.01M388.8 251.7h.01M360.9 289.6h.01M362.7 279.1h.01M387.9 268.6h.01M360 289.5h.01M384.4 268.6h.01M392.7 259.1h.01M380.6 272.2h.01M367.1 277.2h.01M367.2 274.2h.01M405 240.9h.01M382.6 271.3h.01M374.8 274.3h.01M380.8 276.1h.01M401.4 254.8h.01M380.2 271.2h.01M396.8 259.1h.01M408.3 249h.01M367.4 281.2h.01M379.8 272.7h.01M397 260.6h.01M409.1 245.5h.01M361 282.2h.01M359 293.2h.01M392.6 262.1h.01M399.6 253.4h.01M394.4 253.4h.01M362.8 287.9h.01M404.2 257.9h.01M378.1 273.2h.01M372.4 273.5h.01M385.6 269.1h.01M389.5 268.6h.01M361.8 283.5h.01M383.8 267.5h.01M409.8 247.5h.01M396.4 258.6h.01M375.9 269h.01M376 274.2h.01M395.9 255.1h.01M399.8 253.3h.01M374.5 268.9h.01M391.9 255.5h.01M406.2 252.2h.01M399.4 264.5h.01M361.4 274.3h.01M364.6 280.7h.01M391.4 254.9h.01M373.3 274.4h.01M371.9 268.6h.01M392.1 261.1h.01M409.9 247.1h.01M370.3 277.2h.01M403.4 255.3h.01M375.6 272.4h.01M361.4 282.7h.01M365.7 276.3h.01M372 273h.01M364.9 279.3h.01M364 280.8h.01M394.6 261h.01M389.9 264.9h.01M385.6 260.1h.01M379.9 274.6h.01M385.6 267.8h.01M386.1 265.5h.01M384.8 266.6h.01M358.5 280.8h.01M387.8 266.9h.01M380.2 259.2h.01M384.2 257h.01M370.6 279.6h.01M405.9 248.9h.01M369.5 276.4h.01M384.3 263.6h.01M358.3 288.1h.01M382.3 263.8h.01M389.5 263.3h.01M394 262.1h.01M370.4 283.7h.01M378.7 275.6h.01M382.9 268.1h.01M365.7 283.6h.01M386.4 263.3h.01M379.6 270.3h.01M399.5 259.7h.01M361.1 289.4h.01M381.5 263.6h.01M407.7 248.8h.01M364.3 283.1h.01M365.4 283.1h.01M379.5 271.7h.01M392 261h.01M391.5 257.6h.01M388.2 259.1h.01M398.9 258.8h.01M386.4 263.1h.01M377.3 271h.01M364.9 277.4h.01M374.8 271.7h.01M376.2 268.6h.01M372.2 274h.01M407.5 249.5h.01M396.6 260.4h.01M362.3 278.4h.01M388.9 255.8h.01M373.5 272.9h.01M375.1 274.6h.01M366.4 277.1h.01M384.6 270.3h.01M394.4 259.8h.01M395.3 255.4h.01M360.5 286.7h.01M394.7 261.2h.01M402.3 253.2h.01M401.1 253.7h.01M410 244.1h.01M388.8 255.2h.01M372 277.6h.01" stroke="#727272" stroke-width="2.4" stroke-linecap="round" fill="none"/>
<path d="M420 250h.01M418 251.5h.01M415 253h.01M410 256h.01M345 296h.01M348 294h.01M352 292h.01M342 297h.01" stroke="#999" stroke-width="2.4" stroke-linecap="round" fill="none"/>
<path d="M420 250h.01M418 251.5h.01M415 253h.01M410 256h.01M345 296h.01M348 294h.01M352 292h.01M342 297h.01" stroke="#fff" stroke-width="1.5" stroke-linecap="round" fill="none"/>
<path d="M359 253.8h.01M360.6 253.6h.01M356.4 256h.01M358.6 256.2h.01M357 258.6h.01M358.3 258.2h.01M360.6 258h.01M356.8 259.9h.01M360.5 260.1h.01M356.5 262.2h.01M358.8 262.2h.01M356.4 264.1h.01M360.8 264.5h.01M356.1 266.5h.01M358.8 266.8h.01M360.5 266.3h.01M356.2 268.4h.01M359 269h.01M360.8 268.6h.01M356.9 270.4h.01M359 270.5h.01M356 272.9h.01M358.4 272.8h.01M360 272.7h.01M356.6 275.2h.01M358.6 275.3h.01M360.3 274.6h.01M356.6 276.8h.01M358.9 277.2h.01M360.8 277h.01M356.1 279.6h.01M358.8 278.8h.01M360.3 279.1h.01M356.4 281.5h.01M358.1 281.5h.01M356.4 283h.01M358.4 283.1h.01M356.3 285.6h.01M358.9 285.5h.01M360.2 285.5h.01M356.4 287.3h.01M358.8 287.6h.01M368.4 243.6h.01M370 243.9h.01M370 245.9h.01M369.7 247.9h.01M367.7 250.6h.01M367.9 252.4h.01M370.3 252h.01M368.1 254.2h.01M368.5 256.4h.01M369.9 256.7h.01M370.4 259h.01M370 260.4h.01M367.9 262.6h.01M369.8 262.6h.01M367.5 265.2h.01M370 264.9h.01M370 267.3h.01M370.4 271.6h.01M368.3 273.8h.01M370.2 273.7h.01M369.6 275.3h.01M368 277.3h.01M370.4 278h.01M368.2 279.4h.01M367.6 281.7h.01M370.2 281.6h.01M375.4 242h.01M375.5 244h.01M374.5 248.1h.01M374.5 250.7h.01M375.3 254.7h.01M375 256.6h.01M375 258.6h.01M374.9 260.8h.01M375.3 263.2h.01M374.9 265h.01M374.7 267.4h.01M375.2 269.5h.01M374.7 271h.01M380.2 241.8h.01M382.1 242.3h.01M379.6 244.6h.01M381.7 244.5h.01M379.7 246.5h.01M381.8 246h.01M380.1 248.4h.01M382.3 248.3h.01M380.1 250.2h.01M380.3 252.5h.01M381.8 252.4h.01M380.3 254.7h.01M381.6 254.5h.01M380.4 256.5h.01M382.2 256.6h.01M379.6 261.1h.01M382.1 261.1h.01M381.8 263.3h.01M380.5 265.2h.01M382.4 265h.01M380.1 267.5h.01M382.4 267.6h.01M385.8 245h.01M387.8 245h.01M385.8 247.3h.01M387.7 247.6h.01M385.7 249.7h.01M387.8 249.7h.01M385.9 252.7h.01M387.8 252.5h.01M386.5 254.7h.01M386.3 257.3h.01M385.9 259.8h.01M388.4 260.4h.01" stroke="#f7941d" stroke-width="2.5" stroke-linecap="round" fill="none"/>
<path d="M332 275h.01M332 279.2h.01M332 286h.01" stroke="#f7941d" stroke-width="2.5" stroke-linecap="round" fill="none"/>
<path d="M332 269.2h.01M332 271h.01M358 253.5h.01M360 254h.01M369 242.5h.01M370 243.5h.01M369.5 245h.01M375.5 240.8h.01M376 242.5h.01M375.5 248h.01M376 252h.01M375.5 258h.01M381 238.3h.01M382.5 240h.01M381 246h.01M383 250h.01M399 253h.01M399.4 228.8h.01M403.9 250.8h.01M400.7 227.8h.01M387.1 252.1h.01M391.9 259.5h.01M389.7 260.1h.01M394.9 237.2h.01M383.6 251.6h.01M395.8 254.4h.01M393.3 255.5h.01M391.1 253.6h.01M387.9 244.9h.01M400.5 258.3h.01M390.7 245.2h.01M389.7 265.4h.01M393.9 252.9h.01M405.5 248.8h.01M387.1 259.8h.01M401.2 247.3h.01M400.5 240.1h.01M391.3 246.3h.01M398.1 240.9h.01M394.2 240.3h.01M391.2 247.5h.01M392.3 250.4h.01M391 248.7h.01M377.6 267h.01M387.2 251h.01M388 259.5h.01M386.3 257h.01M406.3 252.4h.01M404.3 246.2h.01M385.4 263.3h.01M404.8 247.5h.01M400 245.1h.01M390.8 258.3h.01M401.8 235.8h.01M401.3 245.5h.01M401.1 245.8h.01M404.6 249h.01M397.9 235.9h.01M400.2 244.8h.01M385 259.4h.01M383.3 261.8h.01M406.5 236.7h.01M401.8 246.7h.01M396 237.4h.01M398.6 246.5h.01M399.5 245h.01M403 244.7h.01M401.7 253.5h.01M396.8 253.9h.01M396.2 250.9h.01M390.4 256.5h.01M403.4 241.9h.01M400.8 247.2h.01M384.7 257.1h.01M403.4 239h.01M378.8 259.9h.01M391.7 263.7h.01M393 249.2h.01M388.6 253.9h.01M386.9 246.7h.01M391.2 244.6h.01M402.1 235h.01M391.4 245.4h.01M385.1 266.3h.01M381.8 257.2h.01M408.1 224.3h.01M384.5 264.2h.01M393.7 244.9h.01M391.2 243.5h.01M397.3 257.1h.01M390.5 251.9h.01M407.3 254.2h.01M389.1 254h.01M387.4 248.3h.01M388.8 247.5h.01M387.5 253.7h.01M402.4 239.4h.01M393.3 253.8h.01M399.3 244.4h.01M396.6 260.3h.01M389.6 247.9h.01M380.7 260.3h.01M394.9 261.7h.01M392.2 255.6h.01M404.4 253.7h.01M385.5 265.3h.01M393.3 248.3h.01M390 248.4h.01M385.9 237.2h.01M397.7 246.6h.01M385.3 253.8h.01M413.2 238.9h.01M393.5 261.1h.01M386.5 252.4h.01M388.3 250.6h.01M400.6 248.5h.01M387 252.2h.01M393.3 246.2h.01M391.6 245h.01M387.3 253.2h.01M385.6 257h.01M389.9 244.7h.01M387.3 249.5h.01M392.2 250.5h.01M389.9 245.1h.01M406.9 246.6h.01M396.1 254h.01M395.5 245.8h.01M399.2 264.1h.01M403.5 249.8h.01M391.2 254.6h.01M412.8 239.4h.01M404.6 250.6h.01M401.7 254.8h.01M396.2 250.7h.01M393.3 267.7h.01M396 248h.01M403.8 238.8h.01M391.7 244.5h.01M392.7 246.6h.01M397.5 245.4h.01M387.8 250.5h.01M391.3 246.7h.01M402.3 247.9h.01M392.2 241.3h.01M395.1 238.8h.01M394.9 248.3h.01M386.8 247.3h.01M391.5 264.6h.01M390.7 249.2h.01M402 246.3h.01M399.6 236.3h.01M392.4 247.6h.01M396.5 253.9h.01M384.1 257h.01M394.3 253.1h.01M393.7 245h.01M381.5 239.5h.01M398.5 235.3h.01M393.2 260.8h.01M391 254.8h.01M392.9 254.2h.01M392.5 245.9h.01M403.8 240.3h.01M381.7 254.2h.01M395.5 239.7h.01M401.2 249.3h.01M409.4 234.1h.01M395.5 235.9h.01M390.1 251.8h.01M396.5 246.5h.01M391.4 246h.01M390.2 253.1h.01M399.1 249.7h.01M403.7 250.6h.01M377.6 255.5h.01M390.7 246.2h.01M403.2 247.8h.01M392.6 250.3h.01M402.9 240.3h.01M392.4 255.9h.01M399.8 254.7h.01M397.7 251.4h.01M387 246.5h.01M388.1 233.8h.01M398.5 252.4h.01M393.5 247.3h.01M402 243h.01M405.5 256.5h.01M401 250.6h.01M397.8 247.9h.01M395.6 247.9h.01M399 234h.01M392.4 254.2h.01M386.2 252.8h.01M388.5 255.2h.01M403.1 252.8h.01M396 242.2h.01M396.4 251h.01M400.6 229.3h.01M394.5 237.8h.01M399.6 245.3h.01M399.1 247.7h.01M396.3 242.3h.01M398.8 249.4h.01M394.6 246.5h.01M390.5 254.5h.01M391.5 244.9h.01M391.6 244.2h.01M395.7 251.7h.01M401.4 248.8h.01M401.7 237.6h.01M399.9 250.1h.01M405.2 232.9h.01M388.4 252.6h.01M392 243.3h.01M396.1 241.7h.01M383.2 253.5h.01M396.7 248h.01M400.4 243.6h.01M393 244.3h.01M385.9 249.8h.01M401.3 245.2h.01M405.7 238.6h.01M387 255.1h.01M398.9 238.1h.01M386.9 252h.01M397.3 239.4h.01M392.3 244.2h.01M387.1 244.9h.01M395.3 244.1h.01M387.9 238.3h.01M403 236.6h.01M392.8 242.1h.01M395 239h.01M395.3 245h.01M398.4 238.8h.01M391.4 247.3h.01M404 233.4h.01M395.7 242.5h.01M397.7 247.5h.01M396.2 246.5h.01M395.7 242.8h.01M391.6 240.4h.01M392.1 244.3h.01M394.8 249.7h.01M397.8 246.5h.01M397.4 233.2h.01M397.3 244.5h.01M392.7 241.3h.01M399.6 248.6h.01M400.3 242.2h.01M399.7 247.4h.01M406.4 244.6h.01M395.9 245.9h.01M396.2 246.3h.01M393.5 250.6h.01M390.3 245.3h.01M396.1 242.6h.01M390.8 238.9h.01M399.2 243.3h.01M395 248.2h.01M395.1 242.6h.01M404.9 237.6h.01M402.8 249.7h.01M391.9 248.4h.01M392.2 252.7h.01M391.7 242.9h.01M403.2 245.1h.01M392 253.5h.01M399.9 255.7h.01M403.2 238.2h.01M392.3 243.6h.01M395.8 245.7h.01M399 243.9h.01M386.1 247.8h.01M404.1 245.7h.01M394 246h.01M394.2 246.6h.01M387.5 255h.01M391.8 248.8h.01M382.1 255.3h.01M398.8 233h.01M403.7 242.7h.01M388.9 242.4h.01M401.5 243.1h.01M397.7 243h.01M392.1 252h.01M391.3 252.6h.01M384.9 248.1h.01M389.2 255.9h.01M384.2 247.5h.01M398.8 244.7h.01M409.2 245.7h.01M399.2 246.6h.01M384.1 248.7h.01M393 246.4h.01M386.4 247h.01M392.1 252.9h.01M396.8 243.3h.01M394 248h.01M391 247.3h.01M386.9 254.3h.01M400.6 244.2h.01M398 245.8h.01M406 239.9h.01M386.5 246.4h.01M400.3 247.7h.01M400.3 246.6h.01M393.8 239.7h.01M388.7 241.4h.01M391 242.1h.01M395.2 245h.01M385.8 255.3h.01M397 238.1h.01M396.8 248.3h.01M394.7 250.3h.01M397.5 249.5h.01M395.7 244.7h.01M398.8 247.3h.01M395.6 243.4h.01M390.2 247.2h.01M392.2 248.7h.01M395.7 245.1h.01M395.2 246.7h.01M404.9 245.4h.01M392.5 249.6h.01M393 246.7h.01M392.7 244.4h.01M384.1 241.1h.01M357.5 258h.01M359 262h.01M369 252h.01M370.5 258h.01M369 266h.01M376 256h.01M375 262h.01M379 245h.01M380 252h.01M379 258h.01M383 241h.01M384 248h.01M385 255h.01M386 262h.01M387 266h.01M400 228.3h.01M405 230h.01M402 232h.01M408 233h.01M413.3 236.7h.01M418.3 236.7h.01M410 238h.01M398 231h.01M394 233h.01" stroke="#ee1d23" stroke-width="2.4" stroke-linecap="round" fill="none"/>
<path d="M356.6 308.4h.01M360 308.4h.01M370 308.4h.01M375 308.4h.01M380 308.4h.01M331.6 308.4h.01M366 289h.01M372 292h.01M360 290h.01M378 287h.01M357 292h.01" stroke="#f7941d" stroke-width="2.6" stroke-linecap="round" fill="none"/>
<rect x="26.2" y="393.5" width="201.8" height="132.5" fill="none" stroke="#cfcfcf" stroke-width="0.8"/>
<path d="M26.2 526v1.3M36.3 526v1.3M42.2 526v1.3M46.4 526v1.3M49.7 526v1.3M52.4 526v1.3M54.6 526v1.3M56.6 526v1.3M58.3 526v1.3M59.8 526v1.3M70 526v1.3M75.9 526v1.3M80.1 526v1.3M83.3 526v1.3M86 526v1.3M88.3 526v1.3M90.2 526v1.3M91.9 526v1.3M93.5 526v1.3M103.6 526v1.3M109.5 526v1.3M113.7 526v1.3M117 526v1.3M119.6 526v1.3M121.9 526v1.3M123.8 526v1.3M125.6 526v1.3M127.1 526v1.3M137.2 526v1.3M143.1 526v1.3M147.3 526v1.3M150.6 526v1.3M153.3 526v1.3M155.5 526v1.3M157.5 526v1.3M159.2 526v1.3M160.7 526v1.3M170.9 526v1.3M176.8 526v1.3M181 526v1.3M184.2 526v1.3M186.9 526v1.3M189.2 526v1.3M191.1 526v1.3M192.8 526v1.3M194.4 526v1.3M204.5 526v1.3M210.4 526v1.3M214.6 526v1.3M217.9 526v1.3M220.5 526v1.3M222.8 526v1.3M224.7 526v1.3M226.5 526v1.3M228 526v1.3" stroke="#c8c8c8" stroke-width="0.5"/>
<path d="M26.2 526h-1.3M26.2 512.7h-1.3M26.2 504.9h-1.3M26.2 499.4h-1.3M26.2 495.1h-1.3M26.2 491.6h-1.3M26.2 488.7h-1.3M26.2 486.1h-1.3M26.2 483.9h-1.3M26.2 481.8h-1.3M26.2 468.5h-1.3M26.2 460.8h-1.3M26.2 455.2h-1.3M26.2 451h-1.3M26.2 447.5h-1.3M26.2 444.5h-1.3M26.2 441.9h-1.3M26.2 439.7h-1.3M26.2 437.7h-1.3M26.2 424.4h-1.3M26.2 416.6h-1.3M26.2 411.1h-1.3M26.2 406.8h-1.3M26.2 403.3h-1.3M26.2 400.3h-1.3M26.2 397.8h-1.3M26.2 395.5h-1.3M26.2 393.5h-1.3" stroke="#c8c8c8" stroke-width="0.5"/>
<text x="21.5" y="396.6" font-size="5.6" text-anchor="end" fill="#333">100</text>
<text x="21.5" y="441.1" font-size="5.6" text-anchor="end" fill="#333">10</text>
<text x="21.5" y="486" font-size="5.6" text-anchor="end" fill="#333">1</text>
<text x="21.5" y="526.9" font-size="5.6" text-anchor="end" fill="#333">0.1</text>
<text x="28.8" y="534.6" font-size="5.6" text-anchor="middle" fill="#333">0.001</text>
<text x="61.3" y="534.6" font-size="5.6" text-anchor="middle" fill="#333">0.01</text>
<text x="93.8" y="534.6" font-size="5.6" text-anchor="middle" fill="#333">0.1</text>
<text x="127.6" y="534.6" font-size="5.6" text-anchor="middle" fill="#333">1</text>
<text x="161.5" y="534.6" font-size="5.6" text-anchor="middle" fill="#333">10</text>
<text x="196.2" y="534.6" font-size="5.6" text-anchor="middle" fill="#333">100</text>
<text x="223.8" y="534.6" font-size="5.6" text-anchor="middle" fill="#333">1000</text>
<text x="129.7" y="547.8" font-size="6.8" font-weight="bold" text-anchor="middle" fill="#111">Ni/Co</text>
<text x="11" y="466" font-size="7" font-weight="bold" text-anchor="middle" fill="#111" transform="rotate(-90 11 466)">Au (ppm)</text>
<text x="33.5" y="404.5" font-size="9" font-weight="bold" text-anchor="middle" fill="#222">e</text>
<text x="60" y="413.8" font-size="7.5" font-weight="bold" text-anchor="middle" fill="#2e2e8f">Sedimentary</text>
<text x="60" y="422.5" font-size="7.5" font-weight="bold" text-anchor="middle" fill="#2e2e8f">Pyrite</text>
<text x="166.5" y="414" font-size="7.5" font-weight="bold" text-anchor="middle" fill="#2e2e8f">Magmatic–Hydrothermal</text>
<text x="166.5" y="422.7" font-size="7.5" font-weight="bold" text-anchor="middle" fill="#2e2e8f">Pyrite</text>
<line x1="93.7" y1="393.5" x2="93.7" y2="526" stroke="#333" stroke-width="0.9" stroke-dasharray="3.2 2"/>
<path d="M117.7 440.2h.01M117.6 445.3h.01M117.1 448.1h.01M117.2 450.3h.01M117.1 452.7h.01M117.7 455.7h.01M117.3 460.7h.01M117.2 463.6h.01M117.3 466h.01M117.6 471.1h.01M117 476.4h.01M117.2 478.8h.01M117.6 481.6h.01M117.5 484.1h.01M117.4 487.1h.01M117.1 489.1h.01M117.5 492.1h.01M117.1 497.1h.01M117.1 499.9h.01M127.5 450.7h.01M129.1 450.7h.01M127.3 452.4h.01M129 452.9h.01M127.8 455.5h.01M129 456.1h.01M127.6 457.1h.01M129.2 457.1h.01M127.5 458.8h.01M129.1 458.6h.01M127.7 460.9h.01M127.6 462.3h.01M129.3 462h.01M127.6 463.8h.01M129.4 463.5h.01M127.2 465.7h.01M127.8 467.2h.01M129.3 467.3h.01M127.7 468.3h.01M129 468.7h.01M127.8 470.5h.01M128.8 469.8h.01M127.4 472.2h.01M129.5 472h.01M127.6 473.7h.01M129.4 473.7h.01M127.6 474.8h.01M129.2 474.9h.01M127.9 476.8h.01M129.1 476.7h.01M129.3 478.4h.01M127.6 480.1h.01M129.3 481.2h.01M129 483.1h.01M127.9 484.6h.01M129.1 484.2h.01M127.5 486.2h.01M129 486h.01M127.5 487.4h.01M128.9 488h.01M128.8 489.7h.01M127.3 492.6h.01M128.7 492.6h.01M127.9 494.3h.01M127.7 496h.01M128.9 495.8h.01M127.4 497.3h.01M129.4 497.2h.01M129.3 498.9h.01M127.4 500.3h.01M129.5 500.5h.01M129.4 502.2h.01M128.9 503.5h.01M127.2 505.5h.01M129.4 505.2h.01M128.9 506.9h.01M127.4 508.8h.01M128.9 508.2h.01M127.2 510.2h.01M127.2 511.6h.01M127.8 513.1h.01M129.3 513.5h.01M149.5 439.7h.01M149.7 441.7h.01M151.2 441.7h.01M149.4 443h.01M151.3 443.3h.01M150.5 444.4h.01M149.1 446.2h.01M151 446.6h.01M149.5 448.3h.01M150.9 447.9h.01M148.9 449.9h.01M151.2 449.5h.01M149.6 451.4h.01M149.6 452.8h.01M150.8 452.9h.01M150.9 456h.01M150.5 457.5h.01M149.6 459.6h.01M151.2 459.4h.01M151.3 461.1h.01M149 462.8h.01M150.6 462.7h.01M149.3 463.9h.01M150.7 463.7h.01M149 465.7h.01M151.1 466h.01M151.1 466.9h.01M150.9 468.9h.01M149.3 470.1h.01M149 472.4h.01M151.1 472.2h.01M149.3 473.4h.01M151 473.3h.01M149.6 475.5h.01M149.7 476.5h.01M149.7 478.8h.01M150.7 478.7h.01M149.2 480.1h.01M150.9 479.7h.01M149.6 481.9h.01M149.5 483.1h.01M149 484.5h.01M150.5 485h.01M149.5 486.5h.01M151.1 486.6h.01M149.4 487.8h.01M150.6 488.4h.01M150.5 489.5h.01M149.3 491.1h.01M150.8 491.1h.01M149.4 492.5h.01M149.2 494.5h.01M149.2 496.4h.01M149.2 497.9h.01M150.6 497.7h.01M149.4 499.4h.01M149.2 501.1h.01M151.2 501h.01M150.6 502.6h.01M149 503.7h.01M150.6 503.7h.01M151 506.8h.01M149.5 508.9h.01M151.1 509.1h.01M148.9 510.4h.01M157.5 442.2h.01M159.2 442.9h.01M158.8 444.1h.01M157.2 446h.01M159.4 445.7h.01M157.1 447.4h.01M159.1 447.4h.01M159 449.4h.01M157.3 450.4h.01M159.1 450.7h.01M157.7 452.5h.01M158.9 452.6h.01M159.1 453.7h.01M157.5 455.5h.01M158.9 455.7h.01M157.3 456.7h.01M159.5 457.3h.01M157.6 458.2h.01M159 460h.01M157.6 461.7h.01M158.9 461.9h.01M157.1 463.4h.01M159.2 463.5h.01M157.4 465.3h.01M158.7 465.1h.01M157.6 466.5h.01M159.1 466.8h.01M157.6 468h.01M158.9 467.9h.01M157.6 469.7h.01M158.9 469.8h.01M157.9 473h.01M159.4 472.8h.01M157.8 474.6h.01M157.2 478.1h.01M158.8 477.7h.01M157.2 479.5h.01M157.4 481.1h.01M159.1 481.3h.01M157.5 482.4h.01M158.9 482.8h.01M157.8 484.1h.01M158.8 484h.01M157.8 485.9h.01M159 487.7h.01M157.6 488.9h.01M158.7 488.7h.01M157.2 490.4h.01M157.7 492.3h.01M157.6 493.7h.01M157.3 495.6h.01M157.7 496.8h.01M159.1 497.3h.01M157.3 498.4h.01M159.5 498.8h.01M157.5 500.1h.01M157.2 502h.01M159 501.9h.01M159.2 503.1h.01M157.6 505h.01M159.1 505.4h.01M157.5 506.3h.01M158.7 506.9h.01M157.9 507.9h.01M159.2 508.3h.01M157.2 510h.01M158.9 510.1h.01M177.5 448.3h.01M178.6 447.8h.01M180.6 448.2h.01M177.2 449.9h.01M178.7 450h.01M180.2 449.6h.01M177.1 451.2h.01M178.9 451.3h.01M180.2 450.8h.01M177.1 452.9h.01M178.7 452.6h.01M180.5 452.6h.01M177.2 454.6h.01M178.4 454.4h.01M180.8 454.5h.01M177.3 455.7h.01M178.4 456.1h.01M180.8 455.8h.01M180.4 457.5h.01M177 459.1h.01M178.7 459h.01M177 460.6h.01M178.5 460.4h.01M180.1 461.1h.01M180.6 462.5h.01M178.9 464.1h.01M180.5 464.2h.01M177.5 465.2h.01M178.7 465.8h.01M180.3 465.5h.01M177.3 467.5h.01M178.6 467.4h.01M180.7 467h.01M176.8 469.1h.01M178.7 468.7h.01M180.4 468.8h.01M177.6 470.6h.01M178.6 470.2h.01M180.1 470.6h.01M177 471.9h.01M178.7 471.8h.01M180.1 471.6h.01M179 473.4h.01M177.1 475h.01M178.4 475.3h.01M180.7 475.5h.01M176.8 476.7h.01M178.9 477h.01M177.1 478.1h.01M178.8 478.2h.01M180.4 478.7h.01M177.2 480h.01M178.5 479.8h.01M180.4 480.2h.01M179.2 481.5h.01M180.3 481.8h.01M176.8 483.5h.01M178.8 483h.01M180.1 483.3h.01M177.3 485.1h.01M178.9 484.8h.01M177.5 486h.01M178.5 486.6h.01M180.6 486.2h.01M177.5 488.1h.01M179 487.7h.01M180.6 488.3h.01M177.5 489.2h.01M178.9 489.5h.01M180.2 489.6h.01M176.9 490.8h.01M178.6 490.9h.01M180.1 491.5h.01M177.3 492.4h.01M179.2 493h.01M180.3 492.8h.01M178.8 494.6h.01M180.4 494h.01M176.9 495.8h.01M179 495.9h.01M177.5 497.7h.01M178.7 497.5h.01M180.4 497.8h.01M176.9 499.4h.01M180.1 499.4h.01M177.4 500.9h.01M178.4 500.9h.01M180.6 500.6h.01M177 502.6h.01M178.5 502.8h.01M180.2 502.2h.01M177 503.7h.01M180.6 504.2h.01M177 505.4h.01M179.2 505.5h.01M180.4 505.4h.01M177.4 507h.01M178.9 506.9h.01M180.8 507.5h.01M177.3 508.8h.01M178.6 508.5h.01M180.3 508.5h.01M177.3 510.1h.01M178.6 510.6h.01M180.4 510.2h.01M176.8 511.9h.01M178.5 512.1h.01M180 511.7h.01M189.8 450.1h.01M190.9 450.4h.01M190.9 452.1h.01M191 453.7h.01M189.2 455.7h.01M190.9 455h.01M189.5 458.6h.01M191.4 458.5h.01M189.7 460.2h.01M191.3 460.4h.01M189.4 461.5h.01M191.4 461.7h.01M189.6 463.6h.01M190.8 464.9h.01M189.6 466.4h.01M191.4 466.7h.01M189.4 467.9h.01M191.2 468.2h.01M189.2 469.9h.01M191 470h.01M189.6 471.2h.01M190.9 471.2h.01M189.6 472.7h.01M190.9 473.3h.01M189.2 474.3h.01M191.1 474.6h.01M189.4 476.1h.01M189.6 477.5h.01M191.2 477.8h.01M189.7 479.3h.01M190.9 479.2h.01M191.5 480.5h.01M191.3 482.6h.01M189.3 484.1h.01M191.1 483.7h.01M191.3 486h.01M191.4 487.3h.01M189.3 488.6h.01M191.4 488.8h.01M190.7 490.8h.01M189.3 492.2h.01M189.3 493.3h.01M191 493.8h.01M189.1 495.2h.01M191.4 495.2h.01M189.5 497.1h.01M191.5 497h.01M189.4 498.8h.01M191.4 498.5h.01M191.3 500.1h.01M189.6 501.3h.01M191.4 501.7h.01M189.2 503h.01M191.1 502.9h.01M189.4 505.2h.01M191.4 504.7h.01M189.8 506.7h.01M191 506.8h.01M189.8 508.1h.01M191.1 507.8h.01M189.2 509.5h.01M190.9 509.9h.01M189.1 511.6h.01M191.5 511.1h.01M196 453.2h.01M196.3 455.3h.01M197.5 455h.01M196.2 457h.01M197.8 456.7h.01M195.7 458.7h.01M195.9 461.1h.01M197.9 461.3h.01M196.1 463.2h.01M196 464.6h.01M197.7 465.2h.01M196.3 467.1h.01M197.4 466.6h.01M195.9 469.3h.01M197.4 469.2h.01M196.4 471.1h.01M195.6 472.6h.01M196.2 475h.01M197.3 476.9h.01M195.9 479.2h.01M197.3 481.1h.01M196.2 483.3h.01M197.3 482.9h.01M195.7 485.1h.01M197.7 485.3h.01M196.3 487.3h.01M197.7 487h.01M196.2 489.1h.01M197.7 489h.01M196.2 491h.01M197.4 493.2h.01M196.3 495.1h.01M196.2 497.1h.01M198 496.9h.01M196.2 498.7h.01M197.9 499.3h.01M195.6 501.4h.01M197.4 500.7h.01M195.6 503h.01M197.4 503.3h.01M195.9 505.2h.01M196 506.7h.01M197.8 507.2h.01" stroke="#bcbcbc" stroke-width="2.3" stroke-linecap="round" fill="none"/>
<path d="M201 446.4h.01M207.5 465.2h.01M208.3 470h.01M209.1 477.5h.01M215.6 481.6h.01M215.6 484.8h.01M212.4 483.2h.01M204.2 485.6h.01M202.6 487.3h.01M205.8 494.6h.01M214 500.4h.01M205.8 507h.01M209 513.5h.01M189.5 439h.01M196 439h.01M196 444.7h.01M201.7 446.4h.01M200 475h.01M203 470h.01M199 500h.01M202 512h.01M186 515h.01M174 517h.01M165 516h.01M145 517h.01M135 518h.01M120 512h.01M118 436h.01M128 445h.01M140 442h.01M146 437h.01M204 459h.01M210 490h.01M218 482h.01" stroke="#999" stroke-width="2.3" stroke-linecap="round" fill="none"/>
<path d="M165.8 475.6h.01M152.2 475.3h.01M160 495.5h.01M146.8 461.7h.01M147.7 485.1h.01M161.2 477.5h.01M161.3 462.2h.01M162.1 501.8h.01M171.4 481h.01M165.1 474.3h.01M147.1 479h.01M181.3 473.8h.01M157.9 477.8h.01M165.6 482.9h.01M153.4 486.8h.01M164.9 442.8h.01M154.3 480.5h.01M176 499.8h.01M171.2 478h.01M148.2 492h.01M142.6 468.3h.01M169 484.7h.01M159.6 446.9h.01M159.9 474.9h.01M157.7 462h.01M174.4 493.8h.01M165.5 505.2h.01M173.7 449.6h.01M152.1 513.8h.01M149.3 493h.01M155.4 454.1h.01M171.8 488.2h.01M154.9 498.6h.01M166.1 492.3h.01M154.4 485.1h.01M152.6 484.1h.01M156.9 494.4h.01M150.7 486.1h.01M153.4 487.7h.01M157.6 483.9h.01M151.1 497.5h.01M165.7 490.6h.01M171.8 471.1h.01M170.3 460.7h.01M151.7 446.5h.01M163 471.7h.01M148.3 472.8h.01M163.2 456.7h.01M149.1 480.8h.01M159.5 471h.01M169.6 489.4h.01M157.4 460.8h.01M153.6 467.8h.01M140.7 486.9h.01M166.2 488.4h.01M156.4 461.7h.01M155.4 499h.01M155.6 496.3h.01M168.6 488h.01M138.7 489h.01M177.8 507.6h.01M145.9 487.1h.01M146.1 465.5h.01M144.8 452h.01M167.1 477.7h.01M166.5 473.2h.01M154.1 478.6h.01M142.3 485.6h.01M169.9 464.6h.01M159.3 484.8h.01M163.1 492.5h.01M157.8 477.9h.01M143.4 469.9h.01M151 496.1h.01M146.6 479.2h.01M174.4 487.7h.01M137.7 445.4h.01M174.4 472.3h.01M172 476.8h.01M164.6 484.3h.01M140.6 445h.01M166.4 501.7h.01M153.4 490.5h.01M156.4 474.6h.01M161.3 464.6h.01M155.8 471.9h.01M152.4 485.3h.01M148.5 497h.01M158.4 489.1h.01M167.6 489.2h.01M174.7 479.2h.01M157.7 505.7h.01M162.6 446.7h.01M175.9 505.3h.01M162 480.9h.01M146.6 475.7h.01M152 467.3h.01M155 475.8h.01M174 485.1h.01M168.4 467.3h.01M166 475.1h.01M164.1 462.8h.01M157.5 490.9h.01M159.4 466.1h.01M172.8 467.7h.01M167.9 510.5h.01M161.3 473h.01M169.4 481.6h.01M169.6 497h.01M154.1 488.3h.01M160.2 475.9h.01M145.7 474.8h.01M160.5 470.1h.01M168.1 456.8h.01M157.4 514.5h.01M173.6 498h.01M163.7 467.3h.01M171.2 455.8h.01M155.1 490h.01M148.2 514.7h.01M162.6 495.3h.01M156.2 477.4h.01M161.5 507.8h.01M179.8 499.1h.01M152 475.4h.01M143.6 465.9h.01M144.3 472h.01M156.1 468.4h.01M159.5 473.5h.01M164.9 499.9h.01M141.9 486.5h.01M163.2 466.7h.01M157.9 475.7h.01M141.6 479h.01M171.7 483.1h.01M155.4 461.8h.01M157.8 458.2h.01M166.8 473.6h.01M139.1 475.2h.01M176.1 477.6h.01M134.7 468.9h.01M161 483.1h.01M169.1 472h.01M148.3 499.8h.01M169.5 493.4h.01M162.4 489.6h.01M142.7 485h.01M181.7 459.3h.01M163.6 467.4h.01M168 480.7h.01M162 475.8h.01M167 470.6h.01M148.6 463.5h.01M157.3 496.7h.01M168 470.9h.01M171 480.4h.01M152.3 470.8h.01M153.5 497.5h.01M156.7 494.2h.01M160.1 481.1h.01M179.5 472.1h.01M175.7 451.7h.01M172.9 484.6h.01M179 495.5h.01M148.6 449.8h.01M161.9 481.9h.01M173.8 483.6h.01M170.8 466.4h.01M161.5 497.2h.01M163.6 479.1h.01M174.1 467h.01M173.8 470.2h.01M162.3 475.8h.01M177.4 488.3h.01M165.6 502.9h.01M161 444.8h.01M149 475.1h.01M158 474.2h.01M153 463h.01M153.9 461.6h.01M160.2 513h.01M140.4 473.7h.01M146.1 492.4h.01M150.5 485.7h.01M171.7 472.1h.01M182.4 468.5h.01M157.1 452.8h.01M155.5 463.1h.01M163.1 494.3h.01M148.6 474.5h.01M155.8 478.3h.01M140.8 454h.01M174.2 483.7h.01M149 482.9h.01M159.7 490.2h.01M163.7 486.4h.01M172.9 479.8h.01M162 498.1h.01M149.9 465.6h.01M163.8 486.6h.01M148.7 468.5h.01M156.3 471.8h.01M163 473.4h.01M154.4 465.2h.01M155.8 489.4h.01M169.9 451.5h.01M175.6 476.7h.01M156.5 479.9h.01M174.6 492h.01M156.6 472.9h.01" stroke="#8d8d8d" stroke-width="2.5" stroke-linecap="round" fill="none"/>
<path d="M165.8 475.6h.01M152.2 475.3h.01M160 495.5h.01M146.8 461.7h.01M147.7 485.1h.01M161.2 477.5h.01M161.3 462.2h.01M162.1 501.8h.01M171.4 481h.01M165.1 474.3h.01M147.1 479h.01M181.3 473.8h.01M157.9 477.8h.01M165.6 482.9h.01M153.4 486.8h.01M164.9 442.8h.01M154.3 480.5h.01M176 499.8h.01M171.2 478h.01M148.2 492h.01M142.6 468.3h.01M169 484.7h.01M159.6 446.9h.01M159.9 474.9h.01M157.7 462h.01M174.4 493.8h.01M165.5 505.2h.01M173.7 449.6h.01M152.1 513.8h.01M149.3 493h.01M155.4 454.1h.01M171.8 488.2h.01M154.9 498.6h.01M166.1 492.3h.01M154.4 485.1h.01M152.6 484.1h.01M156.9 494.4h.01M150.7 486.1h.01M153.4 487.7h.01M157.6 483.9h.01M151.1 497.5h.01M165.7 490.6h.01M171.8 471.1h.01M170.3 460.7h.01M151.7 446.5h.01M163 471.7h.01M148.3 472.8h.01M163.2 456.7h.01M149.1 480.8h.01M159.5 471h.01M169.6 489.4h.01M157.4 460.8h.01M153.6 467.8h.01M140.7 486.9h.01M166.2 488.4h.01M156.4 461.7h.01M155.4 499h.01M155.6 496.3h.01M168.6 488h.01M138.7 489h.01M177.8 507.6h.01M145.9 487.1h.01M146.1 465.5h.01M144.8 452h.01M167.1 477.7h.01M166.5 473.2h.01M154.1 478.6h.01M142.3 485.6h.01M169.9 464.6h.01M159.3 484.8h.01M163.1 492.5h.01M157.8 477.9h.01M143.4 469.9h.01M151 496.1h.01M146.6 479.2h.01M174.4 487.7h.01M137.7 445.4h.01M174.4 472.3h.01M172 476.8h.01M164.6 484.3h.01M140.6 445h.01M166.4 501.7h.01M153.4 490.5h.01M156.4 474.6h.01M161.3 464.6h.01M155.8 471.9h.01M152.4 485.3h.01M148.5 497h.01M158.4 489.1h.01M167.6 489.2h.01M174.7 479.2h.01M157.7 505.7h.01M162.6 446.7h.01M175.9 505.3h.01M162 480.9h.01M146.6 475.7h.01M152 467.3h.01M155 475.8h.01M174 485.1h.01M168.4 467.3h.01M166 475.1h.01M164.1 462.8h.01M157.5 490.9h.01M159.4 466.1h.01M172.8 467.7h.01M167.9 510.5h.01M161.3 473h.01M169.4 481.6h.01M169.6 497h.01M154.1 488.3h.01M160.2 475.9h.01M145.7 474.8h.01M160.5 470.1h.01M168.1 456.8h.01M157.4 514.5h.01M173.6 498h.01M163.7 467.3h.01M171.2 455.8h.01M155.1 490h.01M148.2 514.7h.01M162.6 495.3h.01M156.2 477.4h.01M161.5 507.8h.01M179.8 499.1h.01M152 475.4h.01M143.6 465.9h.01M144.3 472h.01M156.1 468.4h.01M159.5 473.5h.01M164.9 499.9h.01M141.9 486.5h.01M163.2 466.7h.01M157.9 475.7h.01M141.6 479h.01M171.7 483.1h.01M155.4 461.8h.01M157.8 458.2h.01M166.8 473.6h.01M139.1 475.2h.01M176.1 477.6h.01M134.7 468.9h.01M161 483.1h.01M169.1 472h.01M148.3 499.8h.01M169.5 493.4h.01M162.4 489.6h.01M142.7 485h.01M181.7 459.3h.01M163.6 467.4h.01M168 480.7h.01M162 475.8h.01M167 470.6h.01M148.6 463.5h.01M157.3 496.7h.01M168 470.9h.01M171 480.4h.01M152.3 470.8h.01M153.5 497.5h.01M156.7 494.2h.01M160.1 481.1h.01M179.5 472.1h.01M175.7 451.7h.01M172.9 484.6h.01M179 495.5h.01M148.6 449.8h.01M161.9 481.9h.01M173.8 483.6h.01M170.8 466.4h.01M161.5 497.2h.01M163.6 479.1h.01M174.1 467h.01M173.8 470.2h.01M162.3 475.8h.01M177.4 488.3h.01M165.6 502.9h.01M161 444.8h.01M149 475.1h.01M158 474.2h.01M153 463h.01M153.9 461.6h.01M160.2 513h.01M140.4 473.7h.01M146.1 492.4h.01M150.5 485.7h.01M171.7 472.1h.01M182.4 468.5h.01M157.1 452.8h.01M155.5 463.1h.01M163.1 494.3h.01M148.6 474.5h.01M155.8 478.3h.01M140.8 454h.01M174.2 483.7h.01M149 482.9h.01M159.7 490.2h.01M163.7 486.4h.01M172.9 479.8h.01M162 498.1h.01M149.9 465.6h.01M163.8 486.6h.01M148.7 468.5h.01M156.3 471.8h.01M163 473.4h.01M154.4 465.2h.01M155.8 489.4h.01M169.9 451.5h.01M175.6 476.7h.01M156.5 479.9h.01M174.6 492h.01M156.6 472.9h.01" stroke="#fff" stroke-width="1.6" stroke-linecap="round" fill="none"/>
<path d="M150.7 509.2h.01M162.6 491h.01M161.6 446.8h.01M154.4 474.6h.01M136.5 497.8h.01M164.4 468.3h.01M155.1 479.8h.01M146 465h.01M177.3 484.2h.01M173.2 481.1h.01M160.6 510.3h.01M153.9 494.8h.01M167.6 451.1h.01M134.3 490.1h.01M148.5 467.1h.01M149.4 503.1h.01M179.8 481.5h.01M139.8 482h.01M156.7 462.7h.01M163 489.2h.01M136.3 503.1h.01M152.9 490.9h.01M166.7 486.5h.01M134.1 440.3h.01M158.9 482.4h.01M143.2 447h.01M144.9 474h.01M153.5 481.5h.01M152 477.9h.01M170.3 481.8h.01M167.6 469.9h.01M159.5 493h.01M169.8 468.6h.01M165.5 465.2h.01M168.4 480.3h.01M179.8 480.9h.01M146.2 482.3h.01M161.5 495.9h.01M159.3 480.8h.01M161.1 442.4h.01M173.8 468.8h.01M153.3 480.1h.01M160.3 459.8h.01M154.3 511.7h.01M154.7 474.3h.01M169.4 491.2h.01M162.7 488.9h.01M153.8 489.9h.01M153.2 507.6h.01M153 499h.01M146.8 474.2h.01M145.1 504.1h.01M161.6 467.9h.01M159.1 469.9h.01M154.2 498h.01M162.2 499.7h.01M155.9 481.7h.01M168.1 480h.01M152.4 471.3h.01M183.2 474.6h.01M174.4 475.4h.01M152.5 470.2h.01M168.2 488.1h.01M143.8 451.5h.01M158 485.1h.01M152.4 477.9h.01M160.6 473h.01M147.4 495.4h.01M144.6 502.9h.01M154.9 459.4h.01M174.1 468.4h.01M166.2 485h.01M161.7 497.7h.01M145.9 462.1h.01M184.3 500.3h.01M147.2 485.3h.01M169.8 475.6h.01M158.9 487.4h.01M160.8 482.2h.01M147.6 495.8h.01M145.6 477.9h.01M157.3 470.8h.01M159.6 507.4h.01M145.7 480.1h.01M166.6 447h.01M161.3 484.4h.01M147 487h.01M143.9 500.5h.01M154.9 487h.01M160 498.8h.01M178.8 466.5h.01M143.3 485.8h.01M154.5 478.8h.01M165.7 461.7h.01M159.9 452h.01M168.1 473.1h.01M149.6 507.1h.01M159.5 457.6h.01M154.5 473.9h.01M144.9 471h.01M160.9 477.5h.01M158.4 463.9h.01M179.5 477.7h.01M159 479.4h.01M149.6 466.5h.01M155.4 470.6h.01M149.6 487h.01M165.7 457.2h.01M148.8 504.1h.01M143.6 473.6h.01M175.3 446.8h.01M171.2 477.3h.01M148.3 465.3h.01M163.1 453.2h.01M135.7 463.9h.01M174.7 469.4h.01M160.2 497.9h.01M146.8 476h.01M141.9 487h.01M180.9 454.3h.01M156.8 475.9h.01M174.9 479.8h.01M163.4 499.4h.01M150.3 486.7h.01M163.7 463.6h.01M163.5 473.9h.01M165.8 491.7h.01M141.2 468.8h.01M146.4 447.6h.01M176.6 451.2h.01M138 488.8h.01M176.6 477.9h.01M163.3 496.5h.01M164.4 491.5h.01M152.3 486.1h.01M174.5 461.8h.01M160.7 479.6h.01M159.1 470.9h.01M173.1 481.8h.01M143.9 493.9h.01M165 454.4h.01M157.1 453.2h.01M167.3 503.4h.01M161.2 487.9h.01M170.2 474.3h.01M180.3 494.1h.01M149.8 489.8h.01M166.3 452.5h.01M171.8 469.5h.01M180.5 491h.01M157.5 488.2h.01M144.7 473.3h.01M164.1 476h.01M151.9 473.6h.01M148 444.8h.01M176.8 488.1h.01M171.1 468.4h.01M178.1 504h.01M158.5 496.1h.01M159.1 473.8h.01M153.8 456.1h.01M139.9 441.3h.01M156.8 448.4h.01M164 500.8h.01M153.9 456.8h.01M180.8 475.5h.01M183.3 469.4h.01M158.7 447.1h.01M155.3 482.4h.01M152.9 481.4h.01M168.2 474.5h.01M144.2 478h.01M153.4 473h.01M164 450.4h.01M150.7 501.3h.01M147.2 506h.01M169 473.7h.01M138.5 488.3h.01M176.5 479.3h.01M159.8 496.2h.01M170.9 479.7h.01M146.7 482h.01M167.1 497.2h.01M169.3 476.6h.01M139.4 504.4h.01M167.4 487.5h.01M145.8 445.2h.01M158.5 485.4h.01M174 475.4h.01M145.7 463.5h.01M154 458.4h.01M160.3 487.5h.01M169.4 471.4h.01M144.5 487.5h.01M174.4 513.5h.01M163.9 491.7h.01M151.9 492.2h.01M157.9 472.8h.01M177.4 470.9h.01M171.6 482.3h.01M164.7 476.7h.01M161.8 485.1h.01M175.9 471h.01M150.8 453.8h.01M170 459.8h.01M159.2 486.8h.01M155.8 462.9h.01M166 506.5h.01M165 474.3h.01M171.7 479.5h.01" stroke="#9a9a9a" stroke-width="2.2" stroke-linecap="round" fill="none"/>
<path d="M157.4 477.3h.01M163.3 499.8h.01M160.2 487.8h.01M160.6 494.4h.01M163 508.8h.01M153.3 495.7h.01M165.9 493.1h.01M158.4 483h.01M155.5 498.8h.01M172.1 486.4h.01M164.1 497.1h.01M168.5 494.6h.01M163.9 500.5h.01M150.9 492.8h.01M146 474.4h.01M153.6 478.3h.01M164.4 501.4h.01M157.8 491.1h.01M158.4 490h.01M161.4 495.5h.01M156.6 485.2h.01M156.1 499.6h.01M156.9 505.5h.01M158.3 504.8h.01M150.6 486h.01M164.1 496.8h.01M159 510.8h.01M160.9 494.9h.01M155.7 507.3h.01M167.2 496.1h.01M147.1 495.6h.01M156.5 495.9h.01M167.6 485.5h.01M162 500.3h.01M161.6 489.3h.01M151.7 486.2h.01M150.1 501.2h.01M161.1 481.3h.01M160.2 480.6h.01M169.7 479h.01M154.5 494.2h.01M157.2 484.6h.01M156.1 490.1h.01M155.8 494.2h.01M158.4 485.4h.01M160.4 477.3h.01M171.8 476.6h.01M159.6 495.3h.01M163.6 494.6h.01M170.4 482.1h.01M159.7 493.6h.01M156.3 486.9h.01M170.5 485.8h.01M156.4 489.8h.01M158.5 493.7h.01M158.6 495.6h.01M161.3 496.6h.01M171.2 484.6h.01M173.4 488.2h.01M165.5 493.7h.01M157.8 474.6h.01M173.1 485.4h.01M153.9 501.8h.01M160.8 509.3h.01M173.6 498.6h.01M162.2 499.1h.01M149.7 493.8h.01M161.4 488h.01M162.2 479.1h.01M167.4 503.8h.01M149.9 493.5h.01M172.5 496h.01M152 483.3h.01M167 508.6h.01M151.5 492.5h.01M154 489.6h.01M162.6 491.8h.01M154.7 511h.01M158.9 490.6h.01M169 492.3h.01M158.6 500.7h.01M151.9 498.9h.01M168.3 498.1h.01M158.7 492.1h.01M146.5 491h.01M162.5 499.9h.01M161.3 488.7h.01M153.5 491.8h.01M161.2 503h.01M160.2 487.7h.01M159.3 487.9h.01M158.3 472.5h.01M147.5 481.5h.01M163.8 491.5h.01M161.3 502.5h.01M151.9 502.3h.01M163.2 485.8h.01M171.9 479.5h.01M151.2 490.3h.01M163.3 490.5h.01M143.2 489.5h.01M171 493.3h.01M151.5 495.2h.01M150.9 494h.01M163 488.6h.01M162.1 489.2h.01M155.6 505.8h.01M164.7 489.4h.01M154.1 493.7h.01M164.6 499.7h.01M171.8 496.2h.01M151.3 510.2h.01M169.3 499.5h.01M170.7 478.9h.01M157.2 487.6h.01M169.5 481.7h.01M157.6 505.6h.01M165.2 488.7h.01M175 480.3h.01M163.7 490.1h.01M164.1 489.7h.01M153.5 494h.01M149.7 496.8h.01M157.6 500.3h.01M156.6 486.2h.01M163.3 503.1h.01M143.8 493.2h.01M165 479.5h.01M153.2 497.8h.01M153.6 486.4h.01M173.6 483.7h.01M153.3 471.6h.01M151.5 481.2h.01M173.6 502.9h.01M150.1 509.5h.01M166.2 490.5h.01M166.5 495.5h.01M154 476.5h.01M152.9 492h.01M157.3 485.5h.01M167.8 482.6h.01M167.1 487.8h.01M160.9 482.1h.01M160 485.1h.01M146.3 491.9h.01M159.7 499.4h.01M162.3 483.1h.01M155.2 470h.01M151.2 503.6h.01M172 498.8h.01M162.4 497.3h.01M163.9 476.7h.01M153.2 502.6h.01M169.4 494.2h.01M157.6 488.6h.01M155.8 483.8h.01M144.8 493.4h.01M156.5 490.1h.01M173.6 497.3h.01M154.5 497.2h.01M148.2 501.4h.01M162.1 490.3h.01M164.6 505h.01M156.4 483.3h.01M176.8 492.2h.01M171.9 486h.01M163 486.3h.01M165.1 489.6h.01M154.7 505.9h.01M162.7 474h.01" stroke="#6f6f6f" stroke-width="2.2" stroke-linecap="round" fill="none"/>
<path d="M131 449.3h.01M133 449.3h.01M135 449.3h.01M136.2 451.3h.01M137.8 451.3h.01M114 453.7h.01M123.1 453.7h.01M132.1 453.7h.01M134.5 453.7h.01M142.7 453.7h.01M144.4 453.7h.01M149.3 453.7h.01M153.4 453.7h.01M134.5 456.2h.01M143.5 456.2h.01M127.2 459.5h.01M132.9 459.5h.01M138.6 459.5h.01M150.1 459.5h.01M155 459.5h.01M123.9 462.7h.01M134.5 462.7h.01M137 462.7h.01M139.5 462.7h.01M141.9 462.7h.01M143.5 462.7h.01M150.9 462.7h.01M122.3 467.3h.01M124.7 467.3h.01M127.2 467.3h.01M134.5 467.3h.01M138.6 467.3h.01M143.5 467.3h.01M150.9 467.3h.01M110 472.9h.01M119.8 472.9h.01M121.5 472.9h.01M126.4 472.9h.01M128 472.9h.01M131.3 472.9h.01M137.8 472.9h.01M139.5 472.9h.01M141.9 472.9h.01M150.9 472.9h.01M152.6 472.9h.01M156.6 472.9h.01M159.1 472.9h.01M161.6 472.9h.01M101.6 481.1h.01M111.6 481.1h.01M116.5 481.1h.01M119 481.1h.01M121 481.1h.01M148.5 481.1h.01M151.7 481.1h.01M155.8 481.1h.01M160.7 481.1h.01M162.5 481.1h.01M126.4 481.1h.01M127.9 481.1h.01M129.4 481.1h.01M130.9 481.1h.01M132.4 481.1h.01M133.9 481.1h.01M135.4 481.1h.01M136.9 481.1h.01M138.4 481.1h.01M139.9 481.1h.01M141.4 481.1h.01M142.9 481.1h.01M144.4 481.1h.01M97 494.4h.01M98.5 494.4h.01M101.5 494.4h.01M103 494.4h.01M104.5 494.4h.01M106 494.4h.01M107.5 494.4h.01M109 494.4h.01M110.5 494.4h.01M112 494.4h.01M113.5 494.4h.01M125 494.4h.01M126.5 494.4h.01M128 494.4h.01M129.5 494.4h.01M131 494.4h.01M145.5 494.4h.01M147 494.4h.01M160.5 494.4h.01M162 494.4h.01M166.5 494.4h.01M171.5 494.4h.01M182.1 494.4h.01" stroke="#ee1d23" stroke-width="2.5" stroke-linecap="round" fill="none"/>
<path d="M115 494.4h.01M116.5 494.4h.01M118 494.4h.01M119.5 494.4h.01M121 494.4h.01M122.5 494.4h.01M124 494.4h.01M131.3 494.4h.01M132.8 494.4h.01M134.3 494.4h.01M135.8 494.4h.01M137.3 494.4h.01M138.8 494.4h.01M140.3 494.4h.01M141.8 494.4h.01M143.3 494.4h.01M147.6 494.4h.01M149.1 494.4h.01M150.6 494.4h.01M152.1 494.4h.01M153.6 494.4h.01M155.1 494.4h.01M156.6 494.4h.01M158.1 494.4h.01M174.7 494.4h.01M183.7 494.4h.01M194.4 494.4h.01M105 494.4h.01" stroke="#f7941d" stroke-width="2.5" stroke-linecap="round" fill="none"/>
</g></svg></body></html>
